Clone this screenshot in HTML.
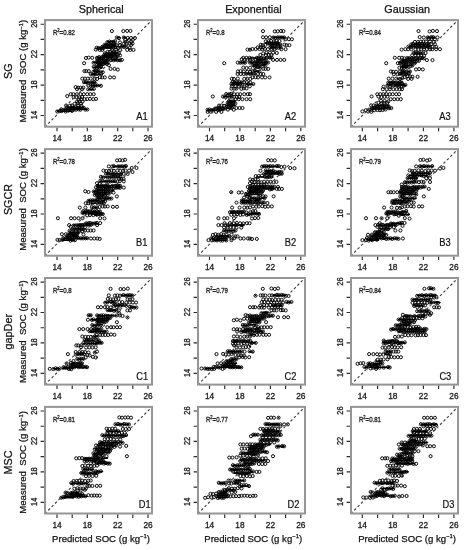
<!DOCTYPE html><html><head><meta charset="utf-8"><title>SOC prediction scatter plots</title><style>
html,body{margin:0;padding:0;background:#fff;}body{width:464px;height:550px;overflow:hidden;}
svg{display:block;} text{font-family:'Liberation Sans', Arial, Helvetica, sans-serif;}
.fr{fill:none;stroke:#959595;stroke-width:2;}
.tk{stroke:#2a2a2a;stroke-width:1.15;}
.dl{stroke:#3a3a3a;stroke-width:1.1;stroke-dasharray:2.6 2.25;stroke-dashoffset:0.37;}
.bl{fill:none;stroke:#000;stroke-width:1.6;stroke-linecap:round;}
.pt{fill:none;stroke:#000;stroke-width:0.95;}
.tl{font-size:8.3px;fill:#1a1a1a;stroke:#1a1a1a;stroke-width:0.3px;}
.ax{font-size:9.6px;fill:#111;stroke:#111;stroke-width:0.25px;}
.hd{font-size:10.8px;fill:#111;stroke:#111;stroke-width:0.25px;}
.r2{font-size:6.4px;fill:#222;stroke:#222;stroke-width:0.28px;}
.pl{font-size:9.6px;fill:#111;stroke:#111;stroke-width:0.2px;}
</style></head><body>
<svg width="464" height="550" viewBox="0 0 464 550">
<rect width="464" height="550" fill="#fff"/>
<text class="hd" x="101.2" y="13" text-anchor="middle">Spherical</text>
<text class="hd" x="253.4" y="13" text-anchor="middle">Exponential</text>
<text class="hd" x="407.1" y="13" text-anchor="middle">Gaussian</text>
<text class="hd" transform="translate(12.2,71.1) rotate(-90)" text-anchor="middle">SG</text>
<text class="ax" transform="translate(26.3,71.1) rotate(-90)" text-anchor="middle">Measured&#160;&#160;SOC (g kg<tspan dy="-3.2" font-size="5.9px">&#8722;1</tspan><tspan dy="3.2">)</tspan></text>
<path class="bl" d="M93.5 62.4H97.0M93.5 67.4H97.0M93.5 71.1H97.0M116.9 37.8H119.4M123.8 37.4H125.6M107.5 41.8H115.0M104.4 44.9H115.0M102.5 46.8H126.2M97.0 48.0H111.2M105.0 53.6H118.8M103.8 55.5H117.5M97.0 57.4H110.0M111.2 57.4H117.5M97.0 59.9H107.5M111.2 59.9H120.0M97.0 61.8H107.5M97.0 63.6H108.8M97.0 65.5H102.5M97.0 67.4H101.2M97.0 71.8H102.5M91.0 74.2H97.0M84.1 82.4H96.0M91.0 85.5H97.0M88.5 89.2H93.5M67.2 107.4H83.5M61.0 109.2H87.2M57.2 111.1H72.2M97.0 74.2H101.2M97.0 85.5H100.6"/>
<g class="pt"><circle cx="95.8" cy="49.6" r="1.55"/><circle cx="86.0" cy="58.0" r="1.55"/><circle cx="88.7" cy="57.6" r="1.55"/><circle cx="92.2" cy="57.8" r="1.55"/><circle cx="97.0" cy="57.8" r="1.55"/><circle cx="84.1" cy="63.2" r="1.55"/><circle cx="93.6" cy="62.7" r="1.55"/><circle cx="97.2" cy="62.3" r="1.55"/><circle cx="93.7" cy="66.9" r="1.55"/><circle cx="96.8" cy="67.8" r="1.55"/><circle cx="84.4" cy="71.1" r="1.55"/><circle cx="86.3" cy="71.1" r="1.55"/><circle cx="88.8" cy="71.1" r="1.55"/><circle cx="93.5" cy="71.6" r="1.55"/><circle cx="95.2" cy="70.8" r="1.55"/><circle cx="96.9" cy="70.7" r="1.55"/><circle cx="111.9" cy="31.1" r="1.55"/><circle cx="123.3" cy="31.1" r="1.55"/><circle cx="127.1" cy="30.9" r="1.55"/><circle cx="130.4" cy="30.9" r="1.55"/><circle cx="116.8" cy="37.5" r="1.55"/><circle cx="119.0" cy="38.1" r="1.55"/><circle cx="123.8" cy="37.5" r="1.55"/><circle cx="127.8" cy="38.0" r="1.55"/><circle cx="131.0" cy="38.0" r="1.55"/><circle cx="134.9" cy="38.0" r="1.55"/><circle cx="125.2" cy="39.9" r="1.55"/><circle cx="128.9" cy="39.9" r="1.55"/><circle cx="132.8" cy="39.9" r="1.55"/><circle cx="107.4" cy="42.1" r="1.55"/><circle cx="109.5" cy="41.6" r="1.55"/><circle cx="111.3" cy="42.1" r="1.55"/><circle cx="113.4" cy="41.8" r="1.55"/><circle cx="115.1" cy="41.3" r="1.55"/><circle cx="120.0" cy="42.4" r="1.55"/><circle cx="125.4" cy="42.0" r="1.55"/><circle cx="131.3" cy="41.9" r="1.55"/><circle cx="123.9" cy="43.6" r="1.55"/><circle cx="126.6" cy="43.6" r="1.55"/><circle cx="129.5" cy="43.6" r="1.55"/><circle cx="132.5" cy="43.6" r="1.55"/><circle cx="104.6" cy="44.9" r="1.55"/><circle cx="106.4" cy="44.9" r="1.55"/><circle cx="108.3" cy="44.4" r="1.55"/><circle cx="110.9" cy="45.4" r="1.55"/><circle cx="112.9" cy="44.8" r="1.55"/><circle cx="114.8" cy="44.9" r="1.55"/><circle cx="116.6" cy="45.1" r="1.55"/><circle cx="120.0" cy="45.2" r="1.55"/><circle cx="131.2" cy="44.9" r="1.55"/><circle cx="102.3" cy="46.8" r="1.55"/><circle cx="107.0" cy="47.1" r="1.55"/><circle cx="109.2" cy="47.0" r="1.55"/><circle cx="113.3" cy="46.7" r="1.55"/><circle cx="115.1" cy="47.1" r="1.55"/><circle cx="121.8" cy="46.6" r="1.55"/><circle cx="124.1" cy="46.9" r="1.55"/><circle cx="126.3" cy="46.7" r="1.55"/><circle cx="96.7" cy="47.7" r="1.55"/><circle cx="98.8" cy="48.1" r="1.55"/><circle cx="101.3" cy="48.3" r="1.55"/><circle cx="103.3" cy="48.3" r="1.55"/><circle cx="111.4" cy="47.7" r="1.55"/><circle cx="117.9" cy="48.0" r="1.55"/><circle cx="129.7" cy="48.0" r="1.55"/><circle cx="99.7" cy="49.9" r="1.55"/><circle cx="102.3" cy="49.9" r="1.55"/><circle cx="112.2" cy="50.2" r="1.55"/><circle cx="116.3" cy="49.6" r="1.55"/><circle cx="120.1" cy="50.1" r="1.55"/><circle cx="127.2" cy="49.9" r="1.55"/><circle cx="130.3" cy="49.9" r="1.55"/><circle cx="133.5" cy="49.9" r="1.55"/><circle cx="107.7" cy="51.8" r="1.55"/><circle cx="110.2" cy="51.8" r="1.55"/><circle cx="113.5" cy="51.8" r="1.55"/><circle cx="116.4" cy="51.8" r="1.55"/><circle cx="105.0" cy="53.3" r="1.55"/><circle cx="107.3" cy="53.9" r="1.55"/><circle cx="111.0" cy="53.5" r="1.55"/><circle cx="112.9" cy="53.4" r="1.55"/><circle cx="114.9" cy="53.2" r="1.55"/><circle cx="116.6" cy="54.1" r="1.55"/><circle cx="119.0" cy="53.4" r="1.55"/><circle cx="104.0" cy="55.3" r="1.55"/><circle cx="106.0" cy="55.7" r="1.55"/><circle cx="109.3" cy="55.9" r="1.55"/><circle cx="111.3" cy="55.8" r="1.55"/><circle cx="113.9" cy="55.6" r="1.55"/><circle cx="117.8" cy="55.7" r="1.55"/><circle cx="120.0" cy="55.5" r="1.55"/><circle cx="99.1" cy="57.1" r="1.55"/><circle cx="101.5" cy="57.3" r="1.55"/><circle cx="103.3" cy="57.0" r="1.55"/><circle cx="107.8" cy="57.2" r="1.55"/><circle cx="110.3" cy="57.8" r="1.55"/><circle cx="113.2" cy="57.9" r="1.55"/><circle cx="115.6" cy="57.2" r="1.55"/><circle cx="97.2" cy="60.3" r="1.55"/><circle cx="99.0" cy="60.3" r="1.55"/><circle cx="101.3" cy="59.9" r="1.55"/><circle cx="103.6" cy="59.6" r="1.55"/><circle cx="105.6" cy="59.5" r="1.55"/><circle cx="107.3" cy="60.3" r="1.55"/><circle cx="111.0" cy="60.1" r="1.55"/><circle cx="113.5" cy="60.2" r="1.55"/><circle cx="115.5" cy="59.7" r="1.55"/><circle cx="117.7" cy="60.2" r="1.55"/><circle cx="120.1" cy="60.3" r="1.55"/><circle cx="121.9" cy="59.9" r="1.55"/><circle cx="103.6" cy="62.0" r="1.55"/><circle cx="105.6" cy="61.6" r="1.55"/><circle cx="107.6" cy="62.0" r="1.55"/><circle cx="98.8" cy="63.2" r="1.55"/><circle cx="100.8" cy="64.0" r="1.55"/><circle cx="102.9" cy="64.1" r="1.55"/><circle cx="104.8" cy="63.4" r="1.55"/><circle cx="107.0" cy="64.0" r="1.55"/><circle cx="96.7" cy="65.1" r="1.55"/><circle cx="99.1" cy="65.0" r="1.55"/><circle cx="108.9" cy="65.2" r="1.55"/><circle cx="99.5" cy="67.8" r="1.55"/><circle cx="101.1" cy="67.1" r="1.55"/><circle cx="110.6" cy="68.9" r="1.55"/><circle cx="114.5" cy="68.9" r="1.55"/><circle cx="117.8" cy="69.6" r="1.55"/><circle cx="98.8" cy="71.6" r="1.55"/><circle cx="102.8" cy="72.2" r="1.55"/><circle cx="90.7" cy="74.0" r="1.55"/><circle cx="93.1" cy="74.7" r="1.55"/><circle cx="95.0" cy="74.4" r="1.55"/><circle cx="97.1" cy="74.0" r="1.55"/><circle cx="82.3" cy="78.6" r="1.55"/><circle cx="85.0" cy="78.6" r="1.55"/><circle cx="87.9" cy="78.6" r="1.55"/><circle cx="90.7" cy="78.6" r="1.55"/><circle cx="94.6" cy="78.7" r="1.55"/><circle cx="97.1" cy="79.0" r="1.55"/><circle cx="84.0" cy="82.2" r="1.55"/><circle cx="86.0" cy="82.2" r="1.55"/><circle cx="88.3" cy="82.8" r="1.55"/><circle cx="92.1" cy="82.5" r="1.55"/><circle cx="94.1" cy="82.1" r="1.55"/><circle cx="88.5" cy="85.5" r="1.55"/><circle cx="90.7" cy="85.6" r="1.55"/><circle cx="92.7" cy="85.1" r="1.55"/><circle cx="95.1" cy="85.3" r="1.55"/><circle cx="97.2" cy="85.5" r="1.55"/><circle cx="75.6" cy="87.1" r="1.55"/><circle cx="78.1" cy="87.6" r="1.55"/><circle cx="80.5" cy="87.7" r="1.55"/><circle cx="83.3" cy="87.6" r="1.55"/><circle cx="77.0" cy="89.2" r="1.55"/><circle cx="82.1" cy="89.2" r="1.55"/><circle cx="88.2" cy="89.3" r="1.55"/><circle cx="91.3" cy="89.0" r="1.55"/><circle cx="93.8" cy="88.9" r="1.55"/><circle cx="70.7" cy="94.2" r="1.55"/><circle cx="73.4" cy="94.2" r="1.55"/><circle cx="76.9" cy="94.2" r="1.55"/><circle cx="80.6" cy="94.2" r="1.55"/><circle cx="83.8" cy="94.2" r="1.55"/><circle cx="87.2" cy="94.2" r="1.55"/><circle cx="90.4" cy="94.2" r="1.55"/><circle cx="93.7" cy="94.2" r="1.55"/><circle cx="67.2" cy="96.1" r="1.55"/><circle cx="73.6" cy="97.1" r="1.55"/><circle cx="76.4" cy="97.1" r="1.55"/><circle cx="79.5" cy="97.5" r="1.55"/><circle cx="82.1" cy="97.0" r="1.55"/><circle cx="78.8" cy="99.5" r="1.55"/><circle cx="81.5" cy="99.3" r="1.55"/><circle cx="84.6" cy="99.2" r="1.55"/><circle cx="87.2" cy="99.1" r="1.55"/><circle cx="90.0" cy="98.9" r="1.55"/><circle cx="93.2" cy="99.2" r="1.55"/><circle cx="96.0" cy="98.9" r="1.55"/><circle cx="77.1" cy="101.5" r="1.55"/><circle cx="79.5" cy="101.6" r="1.55"/><circle cx="82.5" cy="101.7" r="1.55"/><circle cx="74.7" cy="103.7" r="1.55"/><circle cx="77.7" cy="103.2" r="1.55"/><circle cx="81.0" cy="103.6" r="1.55"/><circle cx="66.1" cy="105.5" r="1.55"/><circle cx="69.9" cy="105.7" r="1.55"/><circle cx="72.1" cy="105.5" r="1.55"/><circle cx="78.0" cy="105.5" r="1.55"/><circle cx="81.3" cy="105.8" r="1.55"/><circle cx="67.1" cy="107.5" r="1.55"/><circle cx="71.3" cy="107.8" r="1.55"/><circle cx="73.1" cy="107.6" r="1.55"/><circle cx="75.6" cy="107.2" r="1.55"/><circle cx="77.5" cy="107.7" r="1.55"/><circle cx="79.3" cy="107.6" r="1.55"/><circle cx="83.7" cy="107.8" r="1.55"/><circle cx="61.3" cy="109.3" r="1.55"/><circle cx="65.2" cy="109.3" r="1.55"/><circle cx="69.9" cy="109.5" r="1.55"/><circle cx="73.9" cy="109.5" r="1.55"/><circle cx="76.0" cy="109.7" r="1.55"/><circle cx="78.7" cy="109.4" r="1.55"/><circle cx="80.5" cy="109.7" r="1.55"/><circle cx="85.3" cy="109.6" r="1.55"/><circle cx="87.4" cy="109.5" r="1.55"/><circle cx="57.2" cy="111.5" r="1.55"/><circle cx="59.7" cy="111.0" r="1.55"/><circle cx="61.7" cy="111.1" r="1.55"/><circle cx="65.6" cy="111.5" r="1.55"/><circle cx="68.3" cy="110.7" r="1.55"/><circle cx="72.0" cy="110.9" r="1.55"/><circle cx="101.2" cy="73.8" r="1.55"/><circle cx="99.9" cy="77.1" r="1.55"/><circle cx="102.2" cy="77.4" r="1.55"/><circle cx="104.8" cy="77.4" r="1.55"/><circle cx="110.1" cy="77.4" r="1.55"/><circle cx="114.0" cy="77.4" r="1.55"/><circle cx="100.9" cy="85.8" r="1.55"/></g>
<line class="dl" x1="45.0" y1="126.8" x2="152.0" y2="20.1"/>
<rect class="fr" x="45.0" y="20.1" width="107.0" height="106.6"/>
<path class="tk" d="M57.0 127.8V131.2M44.0 115.5H40.6M72.2 127.8V131.2M44.0 100.3H40.6M87.3 127.8V131.2M44.0 85.1H40.6M102.5 127.8V131.2M44.0 69.9H40.6M117.7 127.8V131.2M44.0 54.6H40.6M132.8 127.8V131.2M44.0 39.4H40.6M148.0 127.8V131.2M44.0 24.2H40.6"/>
<text class="tl" x="57.0" y="141.1" text-anchor="middle">14</text>
<text class="tl" transform="translate(37.0,115.0) rotate(-90) scale(0.9,1)" text-anchor="middle">14</text>
<text class="tl" x="87.3" y="141.1" text-anchor="middle">18</text>
<text class="tl" transform="translate(37.0,84.6) rotate(-90) scale(0.9,1)" text-anchor="middle">18</text>
<text class="tl" x="117.7" y="141.1" text-anchor="middle">22</text>
<text class="tl" transform="translate(37.0,54.1) rotate(-90) scale(0.9,1)" text-anchor="middle">22</text>
<text class="tl" x="148.0" y="141.1" text-anchor="middle">26</text>
<text class="tl" transform="translate(37.0,23.7) rotate(-90) scale(0.9,1)" text-anchor="middle">26</text>
<text class="r2" transform="translate(52.90,34.85) scale(0.95,1.12)">R<tspan dy="-2.8" font-size="4.4px">2</tspan><tspan dy="2.8">=0.82</tspan></text>
<text class="pl" text-anchor="end" transform="translate(147.60,120.00) scale(0.97,1.08)">A1</text>
<path class="bl" d="M250.0 49.6H250.0M240.2 62.6H245.2M273.0 37.4H284.2M265.5 43.0H279.2M270.5 44.9H280.5M270.5 47.4H280.5M250.0 58.0H271.8M256.8 59.9H265.5M250.0 62.4H268.0M253.0 64.9H265.5M255.5 67.4H260.5M253.0 71.1H259.2M246.5 74.0H250.0M232.8 82.4H241.5M231.5 84.2H241.5M246.5 84.2H250.0M226.5 94.2H231.5M223.4 96.8H231.5M229.0 101.1H235.2M227.8 103.0H235.2M226.5 105.5H235.2M215.2 108.0H231.5M207.8 109.9H224.0M250.0 74.0H255.5M250.0 84.2H253.0"/>
<g class="pt"><circle cx="247.5" cy="49.6" r="1.55"/><circle cx="250.0" cy="49.7" r="1.55"/><circle cx="243.3" cy="57.8" r="1.55"/><circle cx="246.5" cy="57.8" r="1.55"/><circle cx="249.7" cy="57.8" r="1.55"/><circle cx="241.7" cy="59.2" r="1.55"/><circle cx="244.5" cy="59.5" r="1.55"/><circle cx="247.5" cy="59.7" r="1.55"/><circle cx="224.2" cy="63.2" r="1.55"/><circle cx="237.8" cy="62.6" r="1.55"/><circle cx="240.3" cy="62.7" r="1.55"/><circle cx="242.6" cy="62.6" r="1.55"/><circle cx="245.1" cy="62.7" r="1.55"/><circle cx="250.0" cy="62.6" r="1.55"/><circle cx="243.3" cy="67.6" r="1.55"/><circle cx="246.6" cy="68.0" r="1.55"/><circle cx="250.1" cy="67.7" r="1.55"/><circle cx="237.9" cy="71.4" r="1.55"/><circle cx="240.6" cy="71.1" r="1.55"/><circle cx="243.7" cy="71.6" r="1.55"/><circle cx="247.2" cy="71.8" r="1.55"/><circle cx="250.0" cy="71.9" r="1.55"/><circle cx="263.0" cy="31.1" r="1.55"/><circle cx="274.8" cy="31.4" r="1.55"/><circle cx="277.7" cy="31.3" r="1.55"/><circle cx="281.0" cy="31.0" r="1.55"/><circle cx="283.4" cy="31.2" r="1.55"/><circle cx="263.0" cy="37.3" r="1.55"/><circle cx="266.1" cy="37.3" r="1.55"/><circle cx="269.8" cy="37.3" r="1.55"/><circle cx="273.3" cy="37.5" r="1.55"/><circle cx="275.4" cy="37.8" r="1.55"/><circle cx="277.7" cy="37.4" r="1.55"/><circle cx="279.9" cy="37.5" r="1.55"/><circle cx="282.1" cy="37.5" r="1.55"/><circle cx="284.2" cy="37.5" r="1.55"/><circle cx="285.6" cy="39.2" r="1.55"/><circle cx="288.9" cy="39.2" r="1.55"/><circle cx="291.9" cy="39.2" r="1.55"/><circle cx="265.7" cy="41.3" r="1.55"/><circle cx="268.5" cy="41.2" r="1.55"/><circle cx="270.9" cy="40.9" r="1.55"/><circle cx="273.9" cy="41.4" r="1.55"/><circle cx="276.5" cy="40.8" r="1.55"/><circle cx="279.5" cy="41.1" r="1.55"/><circle cx="267.5" cy="43.2" r="1.55"/><circle cx="269.4" cy="42.9" r="1.55"/><circle cx="273.4" cy="43.4" r="1.55"/><circle cx="275.5" cy="42.9" r="1.55"/><circle cx="277.4" cy="43.1" r="1.55"/><circle cx="260.8" cy="44.7" r="1.55"/><circle cx="262.7" cy="45.1" r="1.55"/><circle cx="265.5" cy="44.8" r="1.55"/><circle cx="270.5" cy="45.1" r="1.55"/><circle cx="272.3" cy="45.0" r="1.55"/><circle cx="274.6" cy="45.2" r="1.55"/><circle cx="278.3" cy="44.9" r="1.55"/><circle cx="280.3" cy="45.2" r="1.55"/><circle cx="284.5" cy="44.7" r="1.55"/><circle cx="286.6" cy="45.2" r="1.55"/><circle cx="289.4" cy="45.2" r="1.55"/><circle cx="257.7" cy="47.4" r="1.55"/><circle cx="260.8" cy="47.4" r="1.55"/><circle cx="263.1" cy="47.4" r="1.55"/><circle cx="270.4" cy="47.3" r="1.55"/><circle cx="272.7" cy="47.7" r="1.55"/><circle cx="276.3" cy="47.8" r="1.55"/><circle cx="278.5" cy="47.8" r="1.55"/><circle cx="280.7" cy="47.5" r="1.55"/><circle cx="252.5" cy="49.0" r="1.55"/><circle cx="255.7" cy="49.1" r="1.55"/><circle cx="259.4" cy="49.0" r="1.55"/><circle cx="262.3" cy="49.4" r="1.55"/><circle cx="264.9" cy="48.9" r="1.55"/><circle cx="267.9" cy="49.2" r="1.55"/><circle cx="271.5" cy="49.0" r="1.55"/><circle cx="274.6" cy="49.3" r="1.55"/><circle cx="281.4" cy="49.2" r="1.55"/><circle cx="285.6" cy="49.2" r="1.55"/><circle cx="263.2" cy="53.4" r="1.55"/><circle cx="266.4" cy="52.9" r="1.55"/><circle cx="269.9" cy="52.7" r="1.55"/><circle cx="273.1" cy="52.7" r="1.55"/><circle cx="276.8" cy="53.0" r="1.55"/><circle cx="260.4" cy="54.9" r="1.55"/><circle cx="265.9" cy="55.1" r="1.55"/><circle cx="268.9" cy="54.9" r="1.55"/><circle cx="271.5" cy="55.0" r="1.55"/><circle cx="252.5" cy="58.5" r="1.55"/><circle cx="256.8" cy="57.8" r="1.55"/><circle cx="258.6" cy="58.1" r="1.55"/><circle cx="261.2" cy="57.9" r="1.55"/><circle cx="263.3" cy="58.3" r="1.55"/><circle cx="267.1" cy="57.6" r="1.55"/><circle cx="269.7" cy="57.6" r="1.55"/><circle cx="271.7" cy="57.6" r="1.55"/><circle cx="250.0" cy="59.9" r="1.55"/><circle cx="255.8" cy="59.9" r="1.55"/><circle cx="265.6" cy="60.1" r="1.55"/><circle cx="273.1" cy="59.9" r="1.55"/><circle cx="277.0" cy="59.9" r="1.55"/><circle cx="280.6" cy="59.9" r="1.55"/><circle cx="284.2" cy="59.9" r="1.55"/><circle cx="252.1" cy="62.1" r="1.55"/><circle cx="256.1" cy="62.2" r="1.55"/><circle cx="258.1" cy="62.4" r="1.55"/><circle cx="260.0" cy="61.9" r="1.55"/><circle cx="261.9" cy="62.3" r="1.55"/><circle cx="263.8" cy="62.8" r="1.55"/><circle cx="265.9" cy="62.5" r="1.55"/><circle cx="268.1" cy="62.6" r="1.55"/><circle cx="253.2" cy="65.1" r="1.55"/><circle cx="254.9" cy="65.4" r="1.55"/><circle cx="256.9" cy="65.3" r="1.55"/><circle cx="259.5" cy="65.2" r="1.55"/><circle cx="263.6" cy="64.8" r="1.55"/><circle cx="265.4" cy="65.4" r="1.55"/><circle cx="255.2" cy="67.4" r="1.55"/><circle cx="258.0" cy="67.0" r="1.55"/><circle cx="260.4" cy="67.6" r="1.55"/><circle cx="263.3" cy="68.9" r="1.55"/><circle cx="265.5" cy="68.9" r="1.55"/><circle cx="268.2" cy="68.9" r="1.55"/><circle cx="252.7" cy="71.0" r="1.55"/><circle cx="255.2" cy="70.9" r="1.55"/><circle cx="259.5" cy="71.5" r="1.55"/><circle cx="237.6" cy="74.0" r="1.55"/><circle cx="240.8" cy="74.0" r="1.55"/><circle cx="243.8" cy="74.0" r="1.55"/><circle cx="246.5" cy="73.8" r="1.55"/><circle cx="250.3" cy="74.1" r="1.55"/><circle cx="231.8" cy="78.7" r="1.55"/><circle cx="234.0" cy="79.0" r="1.55"/><circle cx="237.8" cy="78.6" r="1.55"/><circle cx="244.2" cy="78.9" r="1.55"/><circle cx="247.1" cy="78.7" r="1.55"/><circle cx="250.3" cy="78.9" r="1.55"/><circle cx="232.6" cy="82.0" r="1.55"/><circle cx="234.8" cy="82.4" r="1.55"/><circle cx="236.8" cy="82.2" r="1.55"/><circle cx="239.4" cy="81.9" r="1.55"/><circle cx="241.7" cy="82.5" r="1.55"/><circle cx="243.9" cy="82.2" r="1.55"/><circle cx="246.9" cy="82.2" r="1.55"/><circle cx="250.2" cy="82.4" r="1.55"/><circle cx="231.5" cy="83.9" r="1.55"/><circle cx="233.8" cy="84.1" r="1.55"/><circle cx="237.8" cy="84.2" r="1.55"/><circle cx="239.8" cy="84.7" r="1.55"/><circle cx="241.8" cy="84.6" r="1.55"/><circle cx="246.8" cy="84.7" r="1.55"/><circle cx="248.5" cy="83.9" r="1.55"/><circle cx="231.8" cy="86.4" r="1.55"/><circle cx="235.4" cy="86.3" r="1.55"/><circle cx="238.9" cy="86.5" r="1.55"/><circle cx="244.3" cy="86.5" r="1.55"/><circle cx="249.8" cy="86.3" r="1.55"/><circle cx="231.5" cy="88.6" r="1.55"/><circle cx="234.3" cy="88.6" r="1.55"/><circle cx="236.3" cy="88.6" r="1.55"/><circle cx="241.4" cy="88.8" r="1.55"/><circle cx="243.7" cy="88.3" r="1.55"/><circle cx="246.5" cy="88.4" r="1.55"/><circle cx="212.8" cy="96.5" r="1.55"/><circle cx="226.2" cy="94.0" r="1.55"/><circle cx="229.1" cy="94.3" r="1.55"/><circle cx="231.2" cy="93.8" r="1.55"/><circle cx="234.2" cy="94.2" r="1.55"/><circle cx="237.4" cy="94.2" r="1.55"/><circle cx="240.4" cy="94.2" r="1.55"/><circle cx="244.3" cy="94.2" r="1.55"/><circle cx="247.8" cy="94.2" r="1.55"/><circle cx="223.0" cy="96.6" r="1.55"/><circle cx="225.6" cy="97.0" r="1.55"/><circle cx="229.5" cy="97.1" r="1.55"/><circle cx="231.8" cy="96.7" r="1.55"/><circle cx="234.1" cy="96.8" r="1.55"/><circle cx="236.8" cy="97.0" r="1.55"/><circle cx="239.2" cy="97.0" r="1.55"/><circle cx="235.6" cy="99.2" r="1.55"/><circle cx="238.8" cy="99.2" r="1.55"/><circle cx="242.4" cy="99.2" r="1.55"/><circle cx="246.5" cy="99.2" r="1.55"/><circle cx="250.2" cy="99.2" r="1.55"/><circle cx="229.0" cy="101.1" r="1.55"/><circle cx="231.0" cy="101.5" r="1.55"/><circle cx="233.4" cy="101.2" r="1.55"/><circle cx="227.7" cy="102.7" r="1.55"/><circle cx="229.5" cy="103.2" r="1.55"/><circle cx="233.2" cy="103.4" r="1.55"/><circle cx="235.4" cy="103.5" r="1.55"/><circle cx="219.0" cy="105.6" r="1.55"/><circle cx="221.5" cy="105.5" r="1.55"/><circle cx="224.0" cy="105.8" r="1.55"/><circle cx="226.8" cy="105.4" r="1.55"/><circle cx="228.8" cy="105.3" r="1.55"/><circle cx="230.7" cy="105.5" r="1.55"/><circle cx="233.1" cy="105.5" r="1.55"/><circle cx="215.3" cy="108.5" r="1.55"/><circle cx="217.4" cy="108.1" r="1.55"/><circle cx="219.2" cy="107.9" r="1.55"/><circle cx="221.6" cy="108.4" r="1.55"/><circle cx="223.5" cy="108.4" r="1.55"/><circle cx="225.7" cy="108.3" r="1.55"/><circle cx="229.7" cy="107.9" r="1.55"/><circle cx="231.7" cy="108.0" r="1.55"/><circle cx="236.4" cy="108.0" r="1.55"/><circle cx="239.6" cy="108.0" r="1.55"/><circle cx="242.5" cy="108.0" r="1.55"/><circle cx="207.6" cy="109.8" r="1.55"/><circle cx="209.4" cy="109.5" r="1.55"/><circle cx="211.6" cy="110.2" r="1.55"/><circle cx="213.9" cy="109.7" r="1.55"/><circle cx="217.9" cy="110.1" r="1.55"/><circle cx="220.1" cy="109.8" r="1.55"/><circle cx="227.9" cy="109.6" r="1.55"/><circle cx="233.7" cy="109.7" r="1.55"/><circle cx="207.7" cy="111.9" r="1.55"/><circle cx="210.4" cy="111.7" r="1.55"/><circle cx="216.1" cy="111.9" r="1.55"/><circle cx="221.4" cy="111.9" r="1.55"/><circle cx="253.8" cy="73.6" r="1.55"/><circle cx="258.0" cy="74.0" r="1.55"/><circle cx="260.7" cy="74.0" r="1.55"/><circle cx="263.3" cy="74.0" r="1.55"/><circle cx="252.5" cy="77.3" r="1.55"/><circle cx="255.6" cy="77.2" r="1.55"/><circle cx="258.0" cy="77.4" r="1.55"/><circle cx="262.0" cy="77.4" r="1.55"/><circle cx="265.2" cy="77.4" r="1.55"/><circle cx="269.5" cy="77.4" r="1.55"/><circle cx="253.3" cy="84.0" r="1.55"/><circle cx="250.0" cy="94.2" r="1.55"/></g>
<line class="dl" x1="198.0" y1="126.8" x2="305.0" y2="20.1"/>
<rect class="fr" x="198.0" y="20.1" width="107.0" height="106.6"/>
<path class="tk" d="M209.5 127.8V131.2M197.0 115.5H193.6M224.7 127.8V131.2M197.0 100.3H193.6M239.9 127.8V131.2M197.0 85.1H193.6M255.2 127.8V131.2M197.0 69.9H193.6M270.4 127.8V131.2M197.0 54.6H193.6M285.6 127.8V131.2M197.0 39.4H193.6M300.8 127.8V131.2M197.0 24.2H193.6"/>
<text class="tl" x="209.5" y="141.1" text-anchor="middle">14</text>
<text class="tl" transform="translate(190.0,115.0) rotate(-90) scale(0.9,1)" text-anchor="middle">14</text>
<text class="tl" x="239.9" y="141.1" text-anchor="middle">18</text>
<text class="tl" transform="translate(190.0,84.6) rotate(-90) scale(0.9,1)" text-anchor="middle">18</text>
<text class="tl" x="270.4" y="141.1" text-anchor="middle">22</text>
<text class="tl" transform="translate(190.0,54.1) rotate(-90) scale(0.9,1)" text-anchor="middle">22</text>
<text class="tl" x="300.8" y="141.1" text-anchor="middle">26</text>
<text class="tl" transform="translate(190.0,23.7) rotate(-90) scale(0.9,1)" text-anchor="middle">26</text>
<text class="r2" transform="translate(205.90,34.85) scale(0.95,1.12)">R<tspan dy="-2.8" font-size="4.4px">2</tspan><tspan dy="2.8">=0.8</tspan></text>
<text class="pl" text-anchor="end" transform="translate(296.20,120.00) scale(0.97,1.08)">A2</text>
<path class="bl" d="M399.8 62.4H402.0M427.5 37.4H435.0M411.2 44.2H428.8M408.8 46.8H430.0M413.8 53.0H422.5M407.5 58.0H423.8M402.0 60.5H418.8M402.0 63.0H416.2M402.0 65.5H412.5M402.0 67.4H407.5M402.0 71.5H410.0M398.5 74.2H402.0M397.2 78.6H402.0M388.5 82.4H402.0M387.2 84.9H402.0M376.0 105.8H388.5M372.2 108.0H391.0M402.0 74.0H408.8M402.0 85.2H405.6"/>
<g class="pt"><circle cx="401.6" cy="49.6" r="1.55"/><circle cx="394.8" cy="57.8" r="1.55"/><circle cx="399.1" cy="57.8" r="1.55"/><circle cx="401.9" cy="57.8" r="1.55"/><circle cx="386.2" cy="63.2" r="1.55"/><circle cx="397.9" cy="63.2" r="1.55"/><circle cx="400.0" cy="62.9" r="1.55"/><circle cx="401.9" cy="62.4" r="1.55"/><circle cx="399.4" cy="67.8" r="1.55"/><circle cx="401.8" cy="68.0" r="1.55"/><circle cx="390.9" cy="71.5" r="1.55"/><circle cx="393.2" cy="71.9" r="1.55"/><circle cx="396.1" cy="71.8" r="1.55"/><circle cx="400.1" cy="71.3" r="1.55"/><circle cx="402.0" cy="71.5" r="1.55"/><circle cx="418.5" cy="31.1" r="1.55"/><circle cx="429.6" cy="31.4" r="1.55"/><circle cx="432.9" cy="30.9" r="1.55"/><circle cx="437.0" cy="31.1" r="1.55"/><circle cx="419.7" cy="37.1" r="1.55"/><circle cx="423.8" cy="37.5" r="1.55"/><circle cx="427.8" cy="37.4" r="1.55"/><circle cx="431.2" cy="37.2" r="1.55"/><circle cx="433.3" cy="37.1" r="1.55"/><circle cx="437.5" cy="37.4" r="1.55"/><circle cx="428.7" cy="39.1" r="1.55"/><circle cx="431.7" cy="39.0" r="1.55"/><circle cx="434.8" cy="39.4" r="1.55"/><circle cx="414.9" cy="41.9" r="1.55"/><circle cx="417.9" cy="42.0" r="1.55"/><circle cx="420.9" cy="41.6" r="1.55"/><circle cx="423.4" cy="41.6" r="1.55"/><circle cx="426.0" cy="41.5" r="1.55"/><circle cx="429.8" cy="41.4" r="1.55"/><circle cx="433.8" cy="41.9" r="1.55"/><circle cx="411.3" cy="44.4" r="1.55"/><circle cx="413.2" cy="43.9" r="1.55"/><circle cx="415.7" cy="44.6" r="1.55"/><circle cx="417.8" cy="43.8" r="1.55"/><circle cx="419.7" cy="44.1" r="1.55"/><circle cx="422.3" cy="43.8" r="1.55"/><circle cx="424.2" cy="44.4" r="1.55"/><circle cx="426.9" cy="44.1" r="1.55"/><circle cx="428.8" cy="44.3" r="1.55"/><circle cx="430.9" cy="44.2" r="1.55"/><circle cx="434.9" cy="44.2" r="1.55"/><circle cx="408.5" cy="46.5" r="1.55"/><circle cx="411.1" cy="46.9" r="1.55"/><circle cx="415.3" cy="46.4" r="1.55"/><circle cx="417.1" cy="46.5" r="1.55"/><circle cx="419.1" cy="46.3" r="1.55"/><circle cx="421.2" cy="46.6" r="1.55"/><circle cx="423.9" cy="46.9" r="1.55"/><circle cx="427.7" cy="46.8" r="1.55"/><circle cx="429.9" cy="47.2" r="1.55"/><circle cx="432.4" cy="47.0" r="1.55"/><circle cx="436.3" cy="47.0" r="1.55"/><circle cx="405.3" cy="49.2" r="1.55"/><circle cx="408.1" cy="49.2" r="1.55"/><circle cx="411.4" cy="49.2" r="1.55"/><circle cx="415.5" cy="49.3" r="1.55"/><circle cx="418.3" cy="49.6" r="1.55"/><circle cx="421.3" cy="49.3" r="1.55"/><circle cx="423.9" cy="49.3" r="1.55"/><circle cx="426.9" cy="49.0" r="1.55"/><circle cx="430.0" cy="49.3" r="1.55"/><circle cx="432.3" cy="49.2" r="1.55"/><circle cx="436.1" cy="49.2" r="1.55"/><circle cx="440.0" cy="49.2" r="1.55"/><circle cx="413.7" cy="52.9" r="1.55"/><circle cx="415.7" cy="52.9" r="1.55"/><circle cx="418.2" cy="53.0" r="1.55"/><circle cx="420.3" cy="53.3" r="1.55"/><circle cx="422.7" cy="53.2" r="1.55"/><circle cx="425.6" cy="53.0" r="1.55"/><circle cx="412.2" cy="55.3" r="1.55"/><circle cx="415.4" cy="55.2" r="1.55"/><circle cx="418.4" cy="55.2" r="1.55"/><circle cx="421.2" cy="55.3" r="1.55"/><circle cx="424.0" cy="55.8" r="1.55"/><circle cx="404.5" cy="58.3" r="1.55"/><circle cx="407.4" cy="58.0" r="1.55"/><circle cx="409.4" cy="58.2" r="1.55"/><circle cx="411.8" cy="58.1" r="1.55"/><circle cx="415.9" cy="58.1" r="1.55"/><circle cx="420.0" cy="58.0" r="1.55"/><circle cx="421.9" cy="58.1" r="1.55"/><circle cx="423.7" cy="58.4" r="1.55"/><circle cx="426.9" cy="60.1" r="1.55"/><circle cx="432.5" cy="60.1" r="1.55"/><circle cx="401.9" cy="60.6" r="1.55"/><circle cx="403.8" cy="60.5" r="1.55"/><circle cx="405.9" cy="60.7" r="1.55"/><circle cx="407.9" cy="60.0" r="1.55"/><circle cx="410.1" cy="60.1" r="1.55"/><circle cx="412.5" cy="60.4" r="1.55"/><circle cx="414.4" cy="61.0" r="1.55"/><circle cx="416.9" cy="60.7" r="1.55"/><circle cx="419.0" cy="60.8" r="1.55"/><circle cx="403.9" cy="63.1" r="1.55"/><circle cx="406.0" cy="62.7" r="1.55"/><circle cx="408.3" cy="63.4" r="1.55"/><circle cx="412.1" cy="63.2" r="1.55"/><circle cx="414.6" cy="63.3" r="1.55"/><circle cx="401.9" cy="65.3" r="1.55"/><circle cx="404.3" cy="65.4" r="1.55"/><circle cx="406.3" cy="65.6" r="1.55"/><circle cx="410.5" cy="65.9" r="1.55"/><circle cx="412.3" cy="65.6" r="1.55"/><circle cx="404.0" cy="67.9" r="1.55"/><circle cx="407.4" cy="67.7" r="1.55"/><circle cx="416.0" cy="69.4" r="1.55"/><circle cx="419.1" cy="69.1" r="1.55"/><circle cx="422.8" cy="69.4" r="1.55"/><circle cx="404.0" cy="71.5" r="1.55"/><circle cx="406.2" cy="71.7" r="1.55"/><circle cx="410.0" cy="71.6" r="1.55"/><circle cx="393.8" cy="74.2" r="1.55"/><circle cx="397.5" cy="74.2" r="1.55"/><circle cx="400.0" cy="73.8" r="1.55"/><circle cx="388.7" cy="78.6" r="1.55"/><circle cx="392.4" cy="78.6" r="1.55"/><circle cx="396.2" cy="78.6" r="1.55"/><circle cx="400.0" cy="79.0" r="1.55"/><circle cx="402.3" cy="78.1" r="1.55"/><circle cx="388.4" cy="82.5" r="1.55"/><circle cx="390.9" cy="82.8" r="1.55"/><circle cx="393.0" cy="82.3" r="1.55"/><circle cx="394.9" cy="82.7" r="1.55"/><circle cx="397.8" cy="82.8" r="1.55"/><circle cx="399.9" cy="82.2" r="1.55"/><circle cx="401.8" cy="82.7" r="1.55"/><circle cx="387.6" cy="85.3" r="1.55"/><circle cx="391.5" cy="84.8" r="1.55"/><circle cx="393.8" cy="85.3" r="1.55"/><circle cx="395.8" cy="85.1" r="1.55"/><circle cx="397.9" cy="85.0" r="1.55"/><circle cx="399.9" cy="84.6" r="1.55"/><circle cx="402.2" cy="84.5" r="1.55"/><circle cx="383.6" cy="86.7" r="1.55"/><circle cx="390.2" cy="87.1" r="1.55"/><circle cx="398.8" cy="86.6" r="1.55"/><circle cx="401.8" cy="86.7" r="1.55"/><circle cx="382.9" cy="89.2" r="1.55"/><circle cx="386.7" cy="89.2" r="1.55"/><circle cx="389.9" cy="89.2" r="1.55"/><circle cx="393.4" cy="89.2" r="1.55"/><circle cx="396.6" cy="89.2" r="1.55"/><circle cx="399.7" cy="89.2" r="1.55"/><circle cx="377.3" cy="94.2" r="1.55"/><circle cx="380.3" cy="94.2" r="1.55"/><circle cx="383.3" cy="94.2" r="1.55"/><circle cx="386.6" cy="94.2" r="1.55"/><circle cx="389.7" cy="94.2" r="1.55"/><circle cx="392.7" cy="94.2" r="1.55"/><circle cx="396.2" cy="94.2" r="1.55"/><circle cx="399.1" cy="94.2" r="1.55"/><circle cx="371.6" cy="96.5" r="1.55"/><circle cx="378.4" cy="96.5" r="1.55"/><circle cx="381.5" cy="97.0" r="1.55"/><circle cx="384.5" cy="96.8" r="1.55"/><circle cx="387.4" cy="96.6" r="1.55"/><circle cx="390.7" cy="99.2" r="1.55"/><circle cx="394.2" cy="99.2" r="1.55"/><circle cx="397.6" cy="99.2" r="1.55"/><circle cx="400.8" cy="99.2" r="1.55"/><circle cx="381.0" cy="100.8" r="1.55"/><circle cx="384.5" cy="100.9" r="1.55"/><circle cx="388.3" cy="101.4" r="1.55"/><circle cx="378.5" cy="102.8" r="1.55"/><circle cx="381.4" cy="103.3" r="1.55"/><circle cx="384.4" cy="103.0" r="1.55"/><circle cx="387.2" cy="102.8" r="1.55"/><circle cx="371.1" cy="105.4" r="1.55"/><circle cx="373.7" cy="105.4" r="1.55"/><circle cx="376.2" cy="105.6" r="1.55"/><circle cx="378.2" cy="105.8" r="1.55"/><circle cx="382.0" cy="105.5" r="1.55"/><circle cx="384.3" cy="105.5" r="1.55"/><circle cx="386.5" cy="106.2" r="1.55"/><circle cx="388.4" cy="106.1" r="1.55"/><circle cx="372.1" cy="108.2" r="1.55"/><circle cx="374.2" cy="108.0" r="1.55"/><circle cx="376.1" cy="108.3" r="1.55"/><circle cx="378.3" cy="108.0" r="1.55"/><circle cx="380.4" cy="108.3" r="1.55"/><circle cx="382.7" cy="108.1" r="1.55"/><circle cx="384.9" cy="107.8" r="1.55"/><circle cx="388.8" cy="108.3" r="1.55"/><circle cx="391.3" cy="108.1" r="1.55"/><circle cx="365.7" cy="110.2" r="1.55"/><circle cx="368.9" cy="109.7" r="1.55"/><circle cx="371.4" cy="109.9" r="1.55"/><circle cx="374.2" cy="110.2" r="1.55"/><circle cx="377.4" cy="110.1" r="1.55"/><circle cx="380.0" cy="110.2" r="1.55"/><circle cx="382.6" cy="110.0" r="1.55"/><circle cx="385.5" cy="109.5" r="1.55"/><circle cx="362.4" cy="111.4" r="1.55"/><circle cx="368.1" cy="111.6" r="1.55"/><circle cx="371.4" cy="111.8" r="1.55"/><circle cx="401.9" cy="73.8" r="1.55"/><circle cx="404.0" cy="74.3" r="1.55"/><circle cx="406.2" cy="74.1" r="1.55"/><circle cx="408.7" cy="73.5" r="1.55"/><circle cx="404.7" cy="77.1" r="1.55"/><circle cx="407.5" cy="76.4" r="1.55"/><circle cx="410.0" cy="76.4" r="1.55"/><circle cx="412.4" cy="76.7" r="1.55"/><circle cx="417.6" cy="76.8" r="1.55"/><circle cx="408.1" cy="78.9" r="1.55"/><circle cx="411.6" cy="78.8" r="1.55"/><circle cx="403.8" cy="85.6" r="1.55"/><circle cx="405.4" cy="84.9" r="1.55"/><circle cx="402.0" cy="89.2" r="1.55"/></g>
<line class="dl" x1="351.0" y1="126.8" x2="458.0" y2="20.1"/>
<rect class="fr" x="351.0" y="20.1" width="107.0" height="106.6"/>
<path class="tk" d="M362.3 127.8V131.2M350.0 115.5H346.6M377.6 127.8V131.2M350.0 100.3H346.6M392.8 127.8V131.2M350.0 85.1H346.6M408.1 127.8V131.2M350.0 69.9H346.6M423.4 127.8V131.2M350.0 54.6H346.6M438.6 127.8V131.2M350.0 39.4H346.6M453.9 127.8V131.2M350.0 24.2H346.6"/>
<text class="tl" x="362.3" y="141.1" text-anchor="middle">14</text>
<text class="tl" transform="translate(343.0,115.0) rotate(-90) scale(0.9,1)" text-anchor="middle">14</text>
<text class="tl" x="392.8" y="141.1" text-anchor="middle">18</text>
<text class="tl" transform="translate(343.0,84.6) rotate(-90) scale(0.9,1)" text-anchor="middle">18</text>
<text class="tl" x="423.4" y="141.1" text-anchor="middle">22</text>
<text class="tl" transform="translate(343.0,54.1) rotate(-90) scale(0.9,1)" text-anchor="middle">22</text>
<text class="tl" x="453.9" y="141.1" text-anchor="middle">26</text>
<text class="tl" transform="translate(343.0,23.7) rotate(-90) scale(0.9,1)" text-anchor="middle">26</text>
<text class="r2" transform="translate(358.90,34.85) scale(0.95,1.12)">R<tspan dy="-2.8" font-size="4.4px">2</tspan><tspan dy="2.8">=0.84</tspan></text>
<text class="pl" text-anchor="end" transform="translate(450.60,120.00) scale(0.97,1.08)">A3</text>
<text class="hd" transform="translate(12.2,199.5) rotate(-90)" text-anchor="middle">SGCR</text>
<text class="ax" transform="translate(26.3,199.5) rotate(-90)" text-anchor="middle">Measured&#160;&#160;SOC (g kg<tspan dy="-3.2" font-size="5.9px">&#8722;1</tspan><tspan dy="3.2">)</tspan></text>
<path class="bl" d="M93.5 191.6H97.0M94.8 194.5H97.0M88.5 200.5H97.0M113.8 166.4H126.2M106.2 173.9H122.5M101.2 177.0H120.0M100.0 181.4H115.0M97.5 185.8H120.0M97.5 187.6H111.2M113.8 187.6H120.0M97.0 190.1H113.8M97.0 192.6H110.0M97.0 194.5H107.5M97.0 196.4H103.8M97.0 198.2H111.2M97.0 200.5H105.0M91.0 203.2H97.0M92.2 207.6H97.0M83.5 211.4H97.0M82.2 213.2H97.0M94.8 215.1H97.0M86.0 223.2H97.0M73.5 225.1H91.0M72.2 228.9H83.5M69.8 232.6H78.5M67.2 234.5H77.2M66.0 236.4H78.5M63.5 238.2H87.2M62.2 240.1H74.8M97.0 203.0H103.8M97.0 211.4H100.0M97.0 213.9H103.1"/>
<g class="pt"><circle cx="97.0" cy="183.2" r="1.55"/><circle cx="96.0" cy="187.3" r="1.55"/><circle cx="85.2" cy="191.3" r="1.55"/><circle cx="88.5" cy="192.0" r="1.55"/><circle cx="93.7" cy="191.5" r="1.55"/><circle cx="95.6" cy="191.9" r="1.55"/><circle cx="94.7" cy="194.9" r="1.55"/><circle cx="97.0" cy="194.9" r="1.55"/><circle cx="88.5" cy="200.9" r="1.55"/><circle cx="90.6" cy="200.4" r="1.55"/><circle cx="92.8" cy="200.3" r="1.55"/><circle cx="94.6" cy="200.6" r="1.55"/><circle cx="97.2" cy="200.3" r="1.55"/><circle cx="117.1" cy="160.4" r="1.55"/><circle cx="119.8" cy="160.1" r="1.55"/><circle cx="122.6" cy="160.4" r="1.55"/><circle cx="125.1" cy="159.8" r="1.55"/><circle cx="108.8" cy="166.4" r="1.55"/><circle cx="112.2" cy="166.4" r="1.55"/><circle cx="114.0" cy="166.2" r="1.55"/><circle cx="118.0" cy="166.5" r="1.55"/><circle cx="120.0" cy="166.5" r="1.55"/><circle cx="122.3" cy="166.3" r="1.55"/><circle cx="124.2" cy="166.7" r="1.55"/><circle cx="125.9" cy="166.0" r="1.55"/><circle cx="131.8" cy="168.0" r="1.55"/><circle cx="136.5" cy="168.0" r="1.55"/><circle cx="103.5" cy="170.6" r="1.55"/><circle cx="106.3" cy="171.0" r="1.55"/><circle cx="109.1" cy="171.0" r="1.55"/><circle cx="111.3" cy="170.4" r="1.55"/><circle cx="113.9" cy="170.9" r="1.55"/><circle cx="117.3" cy="170.6" r="1.55"/><circle cx="120.3" cy="170.8" r="1.55"/><circle cx="123.0" cy="170.8" r="1.55"/><circle cx="125.5" cy="170.5" r="1.55"/><circle cx="129.1" cy="170.6" r="1.55"/><circle cx="132.5" cy="172.0" r="1.55"/><circle cx="106.0" cy="173.7" r="1.55"/><circle cx="108.4" cy="173.6" r="1.55"/><circle cx="112.3" cy="174.1" r="1.55"/><circle cx="114.2" cy="174.2" r="1.55"/><circle cx="116.7" cy="174.2" r="1.55"/><circle cx="120.8" cy="174.2" r="1.55"/><circle cx="123.7" cy="173.9" r="1.55"/><circle cx="127.7" cy="173.9" r="1.55"/><circle cx="100.9" cy="176.8" r="1.55"/><circle cx="103.5" cy="177.4" r="1.55"/><circle cx="107.6" cy="177.4" r="1.55"/><circle cx="109.5" cy="177.5" r="1.55"/><circle cx="111.5" cy="176.6" r="1.55"/><circle cx="113.5" cy="177.1" r="1.55"/><circle cx="115.6" cy="176.8" r="1.55"/><circle cx="117.7" cy="176.6" r="1.55"/><circle cx="120.3" cy="176.8" r="1.55"/><circle cx="119.1" cy="178.9" r="1.55"/><circle cx="121.4" cy="178.9" r="1.55"/><circle cx="123.6" cy="178.9" r="1.55"/><circle cx="100.3" cy="180.9" r="1.55"/><circle cx="102.5" cy="180.9" r="1.55"/><circle cx="106.1" cy="181.6" r="1.55"/><circle cx="108.3" cy="181.7" r="1.55"/><circle cx="110.4" cy="181.4" r="1.55"/><circle cx="112.7" cy="181.2" r="1.55"/><circle cx="115.0" cy="181.2" r="1.55"/><circle cx="117.4" cy="181.5" r="1.55"/><circle cx="119.8" cy="181.1" r="1.55"/><circle cx="123.8" cy="181.4" r="1.55"/><circle cx="99.9" cy="183.9" r="1.55"/><circle cx="97.8" cy="185.7" r="1.55"/><circle cx="101.3" cy="185.4" r="1.55"/><circle cx="103.7" cy="185.9" r="1.55"/><circle cx="106.0" cy="185.7" r="1.55"/><circle cx="107.9" cy="185.6" r="1.55"/><circle cx="112.0" cy="186.1" r="1.55"/><circle cx="114.2" cy="186.1" r="1.55"/><circle cx="116.0" cy="185.8" r="1.55"/><circle cx="118.0" cy="185.7" r="1.55"/><circle cx="120.1" cy="185.8" r="1.55"/><circle cx="97.8" cy="187.6" r="1.55"/><circle cx="101.6" cy="187.6" r="1.55"/><circle cx="103.4" cy="187.9" r="1.55"/><circle cx="105.4" cy="187.4" r="1.55"/><circle cx="107.2" cy="187.7" r="1.55"/><circle cx="109.0" cy="187.6" r="1.55"/><circle cx="113.7" cy="187.8" r="1.55"/><circle cx="116.1" cy="187.8" r="1.55"/><circle cx="118.0" cy="187.5" r="1.55"/><circle cx="120.0" cy="187.8" r="1.55"/><circle cx="123.8" cy="187.6" r="1.55"/><circle cx="96.9" cy="190.4" r="1.55"/><circle cx="98.7" cy="190.4" r="1.55"/><circle cx="101.4" cy="189.9" r="1.55"/><circle cx="105.4" cy="190.4" r="1.55"/><circle cx="107.7" cy="189.8" r="1.55"/><circle cx="112.0" cy="190.3" r="1.55"/><circle cx="97.3" cy="192.7" r="1.55"/><circle cx="101.5" cy="192.3" r="1.55"/><circle cx="103.7" cy="192.6" r="1.55"/><circle cx="105.7" cy="192.5" r="1.55"/><circle cx="107.7" cy="192.5" r="1.55"/><circle cx="110.0" cy="192.6" r="1.55"/><circle cx="113.5" cy="192.6" r="1.55"/><circle cx="99.2" cy="194.6" r="1.55"/><circle cx="101.3" cy="194.2" r="1.55"/><circle cx="105.2" cy="195.0" r="1.55"/><circle cx="107.7" cy="194.9" r="1.55"/><circle cx="99.1" cy="196.4" r="1.55"/><circle cx="103.7" cy="196.4" r="1.55"/><circle cx="116.9" cy="196.4" r="1.55"/><circle cx="97.3" cy="198.3" r="1.55"/><circle cx="101.1" cy="198.0" r="1.55"/><circle cx="104.8" cy="198.1" r="1.55"/><circle cx="106.9" cy="198.2" r="1.55"/><circle cx="109.2" cy="198.6" r="1.55"/><circle cx="111.4" cy="198.5" r="1.55"/><circle cx="100.7" cy="200.5" r="1.55"/><circle cx="103.0" cy="200.1" r="1.55"/><circle cx="105.3" cy="201.0" r="1.55"/><circle cx="85.7" cy="203.2" r="1.55"/><circle cx="88.2" cy="203.2" r="1.55"/><circle cx="90.7" cy="203.5" r="1.55"/><circle cx="93.2" cy="202.8" r="1.55"/><circle cx="96.9" cy="202.8" r="1.55"/><circle cx="79.8" cy="207.6" r="1.55"/><circle cx="85.4" cy="207.6" r="1.55"/><circle cx="91.9" cy="207.3" r="1.55"/><circle cx="94.4" cy="207.4" r="1.55"/><circle cx="97.0" cy="207.4" r="1.55"/><circle cx="83.3" cy="211.1" r="1.55"/><circle cx="86.0" cy="211.1" r="1.55"/><circle cx="88.0" cy="211.3" r="1.55"/><circle cx="90.1" cy="211.3" r="1.55"/><circle cx="92.2" cy="211.1" r="1.55"/><circle cx="94.8" cy="211.6" r="1.55"/><circle cx="96.8" cy="211.1" r="1.55"/><circle cx="82.5" cy="212.8" r="1.55"/><circle cx="84.6" cy="213.6" r="1.55"/><circle cx="90.5" cy="213.1" r="1.55"/><circle cx="92.8" cy="213.2" r="1.55"/><circle cx="95.1" cy="213.4" r="1.55"/><circle cx="87.2" cy="215.4" r="1.55"/><circle cx="90.0" cy="215.0" r="1.55"/><circle cx="93.3" cy="215.1" r="1.55"/><circle cx="96.8" cy="214.8" r="1.55"/><circle cx="57.9" cy="218.2" r="1.55"/><circle cx="71.0" cy="218.2" r="1.55"/><circle cx="74.6" cy="218.2" r="1.55"/><circle cx="78.5" cy="218.2" r="1.55"/><circle cx="82.5" cy="218.2" r="1.55"/><circle cx="86.1" cy="223.4" r="1.55"/><circle cx="88.5" cy="223.1" r="1.55"/><circle cx="90.3" cy="223.0" r="1.55"/><circle cx="92.8" cy="223.6" r="1.55"/><circle cx="95.1" cy="223.4" r="1.55"/><circle cx="69.1" cy="225.1" r="1.55"/><circle cx="73.7" cy="225.5" r="1.55"/><circle cx="75.7" cy="225.5" r="1.55"/><circle cx="78.2" cy="225.4" r="1.55"/><circle cx="80.0" cy="225.1" r="1.55"/><circle cx="82.1" cy="225.0" r="1.55"/><circle cx="84.4" cy="224.6" r="1.55"/><circle cx="88.9" cy="225.5" r="1.55"/><circle cx="91.1" cy="224.8" r="1.55"/><circle cx="97.1" cy="225.1" r="1.55"/><circle cx="70.7" cy="226.7" r="1.55"/><circle cx="79.5" cy="226.8" r="1.55"/><circle cx="81.9" cy="227.0" r="1.55"/><circle cx="85.0" cy="227.3" r="1.55"/><circle cx="72.5" cy="229.1" r="1.55"/><circle cx="74.2" cy="228.6" r="1.55"/><circle cx="76.8" cy="229.4" r="1.55"/><circle cx="79.2" cy="228.6" r="1.55"/><circle cx="81.1" cy="229.3" r="1.55"/><circle cx="83.5" cy="229.2" r="1.55"/><circle cx="85.0" cy="230.5" r="1.55"/><circle cx="87.9" cy="230.5" r="1.55"/><circle cx="90.7" cy="230.5" r="1.55"/><circle cx="93.6" cy="230.5" r="1.55"/><circle cx="69.6" cy="230.7" r="1.55"/><circle cx="75.8" cy="231.1" r="1.55"/><circle cx="79.5" cy="230.8" r="1.55"/><circle cx="82.1" cy="231.3" r="1.55"/><circle cx="69.6" cy="232.5" r="1.55"/><circle cx="71.8" cy="232.2" r="1.55"/><circle cx="74.4" cy="232.8" r="1.55"/><circle cx="78.2" cy="232.5" r="1.55"/><circle cx="61.9" cy="234.2" r="1.55"/><circle cx="65.8" cy="234.3" r="1.55"/><circle cx="69.3" cy="234.9" r="1.55"/><circle cx="71.3" cy="234.4" r="1.55"/><circle cx="73.5" cy="234.6" r="1.55"/><circle cx="77.1" cy="234.4" r="1.55"/><circle cx="83.5" cy="234.5" r="1.55"/><circle cx="74.2" cy="236.5" r="1.55"/><circle cx="76.5" cy="236.7" r="1.55"/><circle cx="63.3" cy="238.1" r="1.55"/><circle cx="65.7" cy="238.6" r="1.55"/><circle cx="67.9" cy="238.7" r="1.55"/><circle cx="69.6" cy="238.1" r="1.55"/><circle cx="72.1" cy="237.8" r="1.55"/><circle cx="78.3" cy="238.1" r="1.55"/><circle cx="80.9" cy="238.3" r="1.55"/><circle cx="83.3" cy="238.4" r="1.55"/><circle cx="85.4" cy="238.3" r="1.55"/><circle cx="87.2" cy="238.2" r="1.55"/><circle cx="91.0" cy="238.5" r="1.55"/><circle cx="94.3" cy="238.5" r="1.55"/><circle cx="97.3" cy="238.5" r="1.55"/><circle cx="57.5" cy="239.9" r="1.55"/><circle cx="59.6" cy="240.0" r="1.55"/><circle cx="62.5" cy="239.9" r="1.55"/><circle cx="70.5" cy="240.6" r="1.55"/><circle cx="72.5" cy="240.0" r="1.55"/><circle cx="74.9" cy="240.2" r="1.55"/><circle cx="99.4" cy="202.8" r="1.55"/><circle cx="101.4" cy="202.9" r="1.55"/><circle cx="103.8" cy="203.1" r="1.55"/><circle cx="99.6" cy="207.0" r="1.55"/><circle cx="102.6" cy="206.5" r="1.55"/><circle cx="105.0" cy="206.5" r="1.55"/><circle cx="107.7" cy="206.4" r="1.55"/><circle cx="112.9" cy="206.8" r="1.55"/><circle cx="117.0" cy="206.8" r="1.55"/><circle cx="100.0" cy="211.4" r="1.55"/><circle cx="99.1" cy="214.1" r="1.55"/><circle cx="100.8" cy="214.0" r="1.55"/><circle cx="102.8" cy="214.1" r="1.55"/><circle cx="100.2" cy="218.2" r="1.55"/><circle cx="104.5" cy="218.4" r="1.55"/><circle cx="96.9" cy="222.9" r="1.55"/><circle cx="100.2" cy="223.1" r="1.55"/><circle cx="99.7" cy="238.9" r="1.55"/></g>
<line class="dl" x1="45.0" y1="255.7" x2="152.0" y2="149.1"/>
<rect class="fr" x="45.0" y="149.1" width="107.0" height="106.6"/>
<path class="tk" d="M57.0 256.7V260.1M44.0 244.4H40.6M72.2 256.7V260.1M44.0 229.2H40.6M87.3 256.7V260.1M44.0 214.0H40.6M102.5 256.7V260.1M44.0 198.8H40.6M117.7 256.7V260.1M44.0 183.6H40.6M132.8 256.7V260.1M44.0 168.4H40.6M148.0 256.7V260.1M44.0 153.1H40.6"/>
<text class="tl" x="57.0" y="270.0" text-anchor="middle">14</text>
<text class="tl" transform="translate(37.0,243.9) rotate(-90) scale(0.9,1)" text-anchor="middle">14</text>
<text class="tl" x="87.3" y="270.0" text-anchor="middle">18</text>
<text class="tl" transform="translate(37.0,213.5) rotate(-90) scale(0.9,1)" text-anchor="middle">18</text>
<text class="tl" x="117.7" y="270.0" text-anchor="middle">22</text>
<text class="tl" transform="translate(37.0,183.1) rotate(-90) scale(0.9,1)" text-anchor="middle">22</text>
<text class="tl" x="148.0" y="270.0" text-anchor="middle">26</text>
<text class="tl" transform="translate(37.0,152.6) rotate(-90) scale(0.9,1)" text-anchor="middle">26</text>
<text class="r2" transform="translate(52.90,163.78) scale(0.95,1.12)">R<tspan dy="-2.8" font-size="4.4px">2</tspan><tspan dy="2.8">=0.78</tspan></text>
<text class="pl" text-anchor="end" transform="translate(147.50,246.10) scale(0.97,1.08)">B1</text>
<path class="bl" d="M249.0 191.4H250.0M231.2 192.2H231.2M245.9 193.9H250.0M245.2 195.8H250.0M241.5 200.5H250.0M262.4 166.4H278.6M265.5 170.8H273.0M266.8 172.2H281.8M264.2 173.9H281.8M256.8 177.0H273.0M250.0 187.0H274.2M250.0 188.9H260.5M263.0 188.9H274.2M250.0 190.8H264.2M250.0 192.6H263.0M250.0 194.5H260.5M250.0 198.2H264.2M250.0 200.5H259.2M241.5 202.6H250.0M230.2 212.0H244.0M246.5 214.5H250.0M227.8 225.1H244.0M224.0 230.8H235.2M216.5 236.4H229.0M211.5 238.2H226.5M212.8 240.1H226.5M250.0 203.0H264.2M250.0 213.9H259.2"/>
<g class="pt"><circle cx="250.0" cy="183.2" r="1.55"/><circle cx="247.8" cy="187.0" r="1.55"/><circle cx="250.3" cy="187.0" r="1.55"/><circle cx="249.0" cy="191.0" r="1.55"/><circle cx="231.2" cy="192.2" r="1.55"/><circle cx="238.7" cy="192.5" r="1.55"/><circle cx="241.8" cy="192.4" r="1.55"/><circle cx="246.0" cy="193.9" r="1.55"/><circle cx="248.3" cy="194.4" r="1.55"/><circle cx="247.4" cy="196.2" r="1.55"/><circle cx="250.1" cy="195.6" r="1.55"/><circle cx="244.0" cy="197.6" r="1.55"/><circle cx="249.8" cy="197.7" r="1.55"/><circle cx="241.8" cy="200.6" r="1.55"/><circle cx="243.8" cy="200.3" r="1.55"/><circle cx="248.2" cy="200.1" r="1.55"/><circle cx="249.9" cy="200.7" r="1.55"/><circle cx="268.2" cy="160.2" r="1.55"/><circle cx="271.4" cy="160.4" r="1.55"/><circle cx="274.8" cy="160.4" r="1.55"/><circle cx="262.1" cy="166.6" r="1.55"/><circle cx="264.1" cy="166.3" r="1.55"/><circle cx="266.4" cy="166.1" r="1.55"/><circle cx="268.4" cy="166.7" r="1.55"/><circle cx="270.2" cy="166.1" r="1.55"/><circle cx="272.9" cy="166.3" r="1.55"/><circle cx="276.8" cy="166.0" r="1.55"/><circle cx="278.7" cy="166.1" r="1.55"/><circle cx="281.3" cy="167.0" r="1.55"/><circle cx="284.5" cy="166.7" r="1.55"/><circle cx="290.2" cy="168.0" r="1.55"/><circle cx="294.5" cy="168.2" r="1.55"/><circle cx="260.5" cy="170.8" r="1.55"/><circle cx="265.8" cy="170.4" r="1.55"/><circle cx="269.6" cy="170.7" r="1.55"/><circle cx="273.0" cy="170.7" r="1.55"/><circle cx="267.0" cy="172.5" r="1.55"/><circle cx="270.8" cy="172.7" r="1.55"/><circle cx="275.5" cy="172.0" r="1.55"/><circle cx="277.4" cy="172.6" r="1.55"/><circle cx="279.3" cy="171.9" r="1.55"/><circle cx="281.4" cy="171.9" r="1.55"/><circle cx="264.2" cy="173.7" r="1.55"/><circle cx="268.6" cy="173.8" r="1.55"/><circle cx="273.1" cy="173.7" r="1.55"/><circle cx="279.5" cy="173.9" r="1.55"/><circle cx="281.8" cy="173.7" r="1.55"/><circle cx="255.7" cy="176.1" r="1.55"/><circle cx="258.7" cy="175.9" r="1.55"/><circle cx="261.9" cy="175.6" r="1.55"/><circle cx="264.9" cy="176.7" r="1.55"/><circle cx="267.1" cy="177.4" r="1.55"/><circle cx="269.1" cy="176.8" r="1.55"/><circle cx="271.3" cy="176.8" r="1.55"/><circle cx="250.1" cy="179.4" r="1.55"/><circle cx="252.9" cy="179.8" r="1.55"/><circle cx="255.2" cy="179.3" r="1.55"/><circle cx="257.9" cy="179.7" r="1.55"/><circle cx="251.9" cy="181.7" r="1.55"/><circle cx="254.8" cy="182.3" r="1.55"/><circle cx="258.3" cy="182.1" r="1.55"/><circle cx="261.3" cy="182.3" r="1.55"/><circle cx="264.1" cy="181.7" r="1.55"/><circle cx="267.5" cy="181.9" r="1.55"/><circle cx="270.6" cy="181.8" r="1.55"/><circle cx="273.6" cy="182.2" r="1.55"/><circle cx="276.5" cy="181.9" r="1.55"/><circle cx="253.0" cy="184.9" r="1.55"/><circle cx="255.8" cy="184.2" r="1.55"/><circle cx="258.3" cy="184.5" r="1.55"/><circle cx="261.3" cy="184.7" r="1.55"/><circle cx="264.3" cy="184.9" r="1.55"/><circle cx="266.5" cy="184.2" r="1.55"/><circle cx="252.3" cy="186.6" r="1.55"/><circle cx="254.1" cy="186.6" r="1.55"/><circle cx="258.3" cy="187.2" r="1.55"/><circle cx="260.0" cy="186.6" r="1.55"/><circle cx="262.0" cy="186.7" r="1.55"/><circle cx="264.0" cy="187.0" r="1.55"/><circle cx="266.2" cy="187.4" r="1.55"/><circle cx="267.9" cy="187.0" r="1.55"/><circle cx="270.3" cy="186.6" r="1.55"/><circle cx="272.1" cy="186.6" r="1.55"/><circle cx="274.5" cy="186.8" r="1.55"/><circle cx="278.0" cy="187.0" r="1.55"/><circle cx="249.7" cy="188.9" r="1.55"/><circle cx="252.1" cy="189.3" r="1.55"/><circle cx="254.4" cy="188.6" r="1.55"/><circle cx="256.6" cy="188.4" r="1.55"/><circle cx="260.7" cy="188.6" r="1.55"/><circle cx="263.2" cy="189.2" r="1.55"/><circle cx="269.9" cy="189.4" r="1.55"/><circle cx="272.0" cy="189.0" r="1.55"/><circle cx="276.7" cy="188.9" r="1.55"/><circle cx="279.1" cy="188.9" r="1.55"/><circle cx="281.9" cy="188.9" r="1.55"/><circle cx="253.8" cy="190.5" r="1.55"/><circle cx="255.8" cy="190.9" r="1.55"/><circle cx="258.1" cy="190.9" r="1.55"/><circle cx="260.2" cy="190.3" r="1.55"/><circle cx="262.4" cy="191.1" r="1.55"/><circle cx="250.2" cy="192.5" r="1.55"/><circle cx="252.4" cy="192.8" r="1.55"/><circle cx="254.4" cy="193.0" r="1.55"/><circle cx="256.7" cy="192.7" r="1.55"/><circle cx="261.0" cy="192.6" r="1.55"/><circle cx="258.4" cy="194.0" r="1.55"/><circle cx="260.2" cy="194.8" r="1.55"/><circle cx="263.3" cy="196.3" r="1.55"/><circle cx="265.5" cy="196.5" r="1.55"/><circle cx="273.6" cy="196.4" r="1.55"/><circle cx="252.2" cy="198.7" r="1.55"/><circle cx="254.2" cy="198.3" r="1.55"/><circle cx="256.0" cy="198.7" r="1.55"/><circle cx="258.2" cy="198.2" r="1.55"/><circle cx="260.3" cy="198.2" r="1.55"/><circle cx="264.5" cy="198.1" r="1.55"/><circle cx="254.7" cy="200.1" r="1.55"/><circle cx="256.9" cy="200.9" r="1.55"/><circle cx="259.1" cy="200.3" r="1.55"/><circle cx="236.5" cy="202.6" r="1.55"/><circle cx="241.6" cy="202.7" r="1.55"/><circle cx="243.7" cy="202.5" r="1.55"/><circle cx="245.4" cy="202.7" r="1.55"/><circle cx="247.7" cy="202.7" r="1.55"/><circle cx="232.1" cy="207.6" r="1.55"/><circle cx="239.6" cy="207.6" r="1.55"/><circle cx="244.3" cy="207.5" r="1.55"/><circle cx="247.3" cy="207.6" r="1.55"/><circle cx="250.0" cy="207.4" r="1.55"/><circle cx="230.0" cy="212.2" r="1.55"/><circle cx="232.2" cy="212.1" r="1.55"/><circle cx="234.0" cy="212.0" r="1.55"/><circle cx="236.3" cy="212.3" r="1.55"/><circle cx="238.2" cy="211.9" r="1.55"/><circle cx="240.2" cy="212.1" r="1.55"/><circle cx="242.0" cy="212.1" r="1.55"/><circle cx="243.9" cy="211.6" r="1.55"/><circle cx="246.3" cy="212.4" r="1.55"/><circle cx="250.3" cy="212.3" r="1.55"/><circle cx="231.3" cy="214.8" r="1.55"/><circle cx="234.5" cy="214.5" r="1.55"/><circle cx="237.0" cy="214.2" r="1.55"/><circle cx="240.3" cy="214.9" r="1.55"/><circle cx="243.0" cy="214.5" r="1.55"/><circle cx="246.7" cy="214.9" r="1.55"/><circle cx="248.3" cy="214.1" r="1.55"/><circle cx="250.3" cy="214.5" r="1.55"/><circle cx="218.4" cy="218.2" r="1.55"/><circle cx="224.2" cy="218.3" r="1.55"/><circle cx="227.4" cy="218.2" r="1.55"/><circle cx="234.0" cy="218.2" r="1.55"/><circle cx="224.6" cy="223.2" r="1.55"/><circle cx="229.9" cy="223.1" r="1.55"/><circle cx="233.8" cy="223.4" r="1.55"/><circle cx="236.8" cy="222.9" r="1.55"/><circle cx="240.1" cy="223.3" r="1.55"/><circle cx="243.3" cy="223.4" r="1.55"/><circle cx="246.8" cy="223.2" r="1.55"/><circle cx="249.6" cy="223.2" r="1.55"/><circle cx="218.4" cy="225.1" r="1.55"/><circle cx="221.6" cy="225.1" r="1.55"/><circle cx="225.3" cy="225.1" r="1.55"/><circle cx="227.8" cy="225.3" r="1.55"/><circle cx="231.5" cy="224.7" r="1.55"/><circle cx="236.1" cy="224.8" r="1.55"/><circle cx="242.1" cy="225.2" r="1.55"/><circle cx="224.1" cy="227.4" r="1.55"/><circle cx="227.4" cy="227.4" r="1.55"/><circle cx="230.6" cy="227.2" r="1.55"/><circle cx="233.5" cy="227.5" r="1.55"/><circle cx="236.5" cy="227.6" r="1.55"/><circle cx="241.3" cy="227.6" r="1.55"/><circle cx="224.2" cy="230.3" r="1.55"/><circle cx="226.3" cy="231.1" r="1.55"/><circle cx="228.5" cy="231.1" r="1.55"/><circle cx="230.6" cy="230.6" r="1.55"/><circle cx="233.3" cy="231.2" r="1.55"/><circle cx="235.5" cy="230.5" r="1.55"/><circle cx="212.9" cy="234.9" r="1.55"/><circle cx="215.5" cy="234.2" r="1.55"/><circle cx="218.4" cy="234.8" r="1.55"/><circle cx="221.2" cy="234.1" r="1.55"/><circle cx="223.6" cy="234.7" r="1.55"/><circle cx="226.6" cy="234.9" r="1.55"/><circle cx="231.5" cy="234.5" r="1.55"/><circle cx="216.8" cy="236.7" r="1.55"/><circle cx="220.3" cy="236.6" r="1.55"/><circle cx="222.7" cy="236.7" r="1.55"/><circle cx="224.6" cy="236.7" r="1.55"/><circle cx="227.0" cy="236.8" r="1.55"/><circle cx="229.1" cy="236.3" r="1.55"/><circle cx="235.3" cy="236.4" r="1.55"/><circle cx="237.5" cy="236.4" r="1.55"/><circle cx="211.3" cy="238.3" r="1.55"/><circle cx="213.4" cy="238.1" r="1.55"/><circle cx="215.9" cy="238.3" r="1.55"/><circle cx="218.2" cy="238.2" r="1.55"/><circle cx="231.6" cy="238.4" r="1.55"/><circle cx="234.4" cy="238.1" r="1.55"/><circle cx="240.5" cy="238.5" r="1.55"/><circle cx="243.7" cy="238.5" r="1.55"/><circle cx="247.9" cy="238.5" r="1.55"/><circle cx="249.8" cy="238.5" r="1.55"/><circle cx="208.5" cy="240.1" r="1.55"/><circle cx="211.7" cy="240.1" r="1.55"/><circle cx="214.4" cy="240.3" r="1.55"/><circle cx="217.0" cy="240.4" r="1.55"/><circle cx="220.5" cy="240.4" r="1.55"/><circle cx="222.5" cy="240.6" r="1.55"/><circle cx="226.2" cy="240.4" r="1.55"/><circle cx="231.5" cy="240.1" r="1.55"/><circle cx="250.3" cy="203.0" r="1.55"/><circle cx="252.3" cy="202.7" r="1.55"/><circle cx="256.0" cy="202.6" r="1.55"/><circle cx="258.3" cy="203.4" r="1.55"/><circle cx="262.1" cy="202.5" r="1.55"/><circle cx="264.0" cy="202.5" r="1.55"/><circle cx="267.4" cy="203.0" r="1.55"/><circle cx="253.0" cy="206.5" r="1.55"/><circle cx="256.2" cy="206.7" r="1.55"/><circle cx="258.8" cy="206.5" r="1.55"/><circle cx="262.3" cy="206.2" r="1.55"/><circle cx="265.1" cy="206.8" r="1.55"/><circle cx="268.1" cy="206.5" r="1.55"/><circle cx="271.8" cy="206.4" r="1.55"/><circle cx="253.0" cy="211.2" r="1.55"/><circle cx="255.4" cy="211.0" r="1.55"/><circle cx="252.5" cy="213.5" r="1.55"/><circle cx="254.4" cy="213.5" r="1.55"/><circle cx="256.8" cy="213.6" r="1.55"/><circle cx="259.0" cy="213.9" r="1.55"/><circle cx="252.0" cy="218.5" r="1.55"/><circle cx="255.0" cy="218.1" r="1.55"/><circle cx="258.3" cy="218.0" r="1.55"/><circle cx="252.0" cy="239.0" r="1.55"/><circle cx="256.8" cy="238.9" r="1.55"/></g>
<line class="dl" x1="198.0" y1="255.7" x2="305.0" y2="149.1"/>
<rect class="fr" x="198.0" y="149.1" width="107.0" height="106.6"/>
<path class="tk" d="M209.5 256.7V260.1M197.0 244.4H193.6M224.7 256.7V260.1M197.0 229.2H193.6M239.9 256.7V260.1M197.0 214.0H193.6M255.2 256.7V260.1M197.0 198.8H193.6M270.4 256.7V260.1M197.0 183.6H193.6M285.6 256.7V260.1M197.0 168.4H193.6M300.8 256.7V260.1M197.0 153.1H193.6"/>
<text class="tl" x="209.5" y="270.0" text-anchor="middle">14</text>
<text class="tl" transform="translate(190.0,243.9) rotate(-90) scale(0.9,1)" text-anchor="middle">14</text>
<text class="tl" x="239.9" y="270.0" text-anchor="middle">18</text>
<text class="tl" transform="translate(190.0,213.5) rotate(-90) scale(0.9,1)" text-anchor="middle">18</text>
<text class="tl" x="270.4" y="270.0" text-anchor="middle">22</text>
<text class="tl" transform="translate(190.0,183.1) rotate(-90) scale(0.9,1)" text-anchor="middle">22</text>
<text class="tl" x="300.8" y="270.0" text-anchor="middle">26</text>
<text class="tl" transform="translate(190.0,152.6) rotate(-90) scale(0.9,1)" text-anchor="middle">26</text>
<text class="r2" transform="translate(205.90,163.78) scale(0.95,1.12)">R<tspan dy="-2.8" font-size="4.4px">2</tspan><tspan dy="2.8">=0.76</tspan></text>
<text class="pl" text-anchor="end" transform="translate(296.20,246.10) scale(0.97,1.08)">B2</text>
<path class="bl" d="M401.0 190.8H402.0M399.8 192.6H402.0M400.4 196.4H402.0M392.9 200.5H402.0M420.0 166.4H432.5M412.5 173.2H430.0M408.8 175.8H427.5M407.5 178.2H417.5M405.0 182.0H416.2M402.0 187.0H425.0M402.0 188.9H418.8M402.0 190.8H416.2M402.0 192.6H413.8M402.0 194.5H416.2M402.0 198.2H416.2M402.0 200.5H410.0M392.2 203.0H402.0M387.2 212.0H402.0M386.0 213.9H402.0M381.6 218.2H381.6M391.0 223.2H402.0M378.5 225.1H396.0M379.8 228.9H389.8M374.8 232.0H383.5M373.5 234.5H386.0M371.0 236.4H384.8M367.2 238.5H398.5M368.5 240.1H378.5M402.0 202.6H407.5M402.0 211.4H406.2M402.0 214.5H409.4"/>
<g class="pt"><circle cx="402.0" cy="187.0" r="1.55"/><circle cx="388.4" cy="192.2" r="1.55"/><circle cx="390.8" cy="192.2" r="1.55"/><circle cx="393.6" cy="192.2" r="1.55"/><circle cx="397.2" cy="192.2" r="1.55"/><circle cx="401.0" cy="190.8" r="1.55"/><circle cx="400.0" cy="192.6" r="1.55"/><circle cx="400.2" cy="196.4" r="1.55"/><circle cx="402.2" cy="196.4" r="1.55"/><circle cx="392.5" cy="201.0" r="1.55"/><circle cx="395.1" cy="200.5" r="1.55"/><circle cx="397.2" cy="200.2" r="1.55"/><circle cx="399.5" cy="200.6" r="1.55"/><circle cx="402.3" cy="200.3" r="1.55"/><circle cx="420.5" cy="160.0" r="1.55"/><circle cx="423.4" cy="159.7" r="1.55"/><circle cx="427.1" cy="160.5" r="1.55"/><circle cx="429.7" cy="159.8" r="1.55"/><circle cx="416.2" cy="166.4" r="1.55"/><circle cx="420.0" cy="166.2" r="1.55"/><circle cx="421.9" cy="166.7" r="1.55"/><circle cx="424.0" cy="166.1" r="1.55"/><circle cx="426.5" cy="166.5" r="1.55"/><circle cx="428.5" cy="166.5" r="1.55"/><circle cx="432.2" cy="166.1" r="1.55"/><circle cx="440.0" cy="168.5" r="1.55"/><circle cx="443.4" cy="167.9" r="1.55"/><circle cx="409.7" cy="170.4" r="1.55"/><circle cx="412.2" cy="171.1" r="1.55"/><circle cx="414.7" cy="170.8" r="1.55"/><circle cx="418.5" cy="170.4" r="1.55"/><circle cx="421.8" cy="170.6" r="1.55"/><circle cx="425.3" cy="171.0" r="1.55"/><circle cx="428.5" cy="170.8" r="1.55"/><circle cx="431.6" cy="170.5" r="1.55"/><circle cx="435.0" cy="170.7" r="1.55"/><circle cx="412.8" cy="173.0" r="1.55"/><circle cx="416.7" cy="173.0" r="1.55"/><circle cx="419.0" cy="173.6" r="1.55"/><circle cx="421.4" cy="173.3" r="1.55"/><circle cx="423.7" cy="173.6" r="1.55"/><circle cx="427.6" cy="173.2" r="1.55"/><circle cx="429.9" cy="173.0" r="1.55"/><circle cx="408.4" cy="175.4" r="1.55"/><circle cx="411.0" cy="176.2" r="1.55"/><circle cx="413.2" cy="175.3" r="1.55"/><circle cx="415.0" cy="175.4" r="1.55"/><circle cx="417.1" cy="175.8" r="1.55"/><circle cx="421.2" cy="175.3" r="1.55"/><circle cx="423.6" cy="176.1" r="1.55"/><circle cx="427.7" cy="175.3" r="1.55"/><circle cx="407.6" cy="178.2" r="1.55"/><circle cx="411.5" cy="178.6" r="1.55"/><circle cx="413.8" cy="178.7" r="1.55"/><circle cx="415.6" cy="178.6" r="1.55"/><circle cx="426.2" cy="178.2" r="1.55"/><circle cx="430.0" cy="178.2" r="1.55"/><circle cx="404.9" cy="182.3" r="1.55"/><circle cx="407.3" cy="182.3" r="1.55"/><circle cx="409.5" cy="182.4" r="1.55"/><circle cx="411.6" cy="182.5" r="1.55"/><circle cx="414.0" cy="181.9" r="1.55"/><circle cx="416.3" cy="181.6" r="1.55"/><circle cx="418.9" cy="182.1" r="1.55"/><circle cx="421.5" cy="181.7" r="1.55"/><circle cx="423.7" cy="182.1" r="1.55"/><circle cx="430.0" cy="182.0" r="1.55"/><circle cx="401.7" cy="184.5" r="1.55"/><circle cx="405.2" cy="184.5" r="1.55"/><circle cx="404.3" cy="187.4" r="1.55"/><circle cx="406.2" cy="187.0" r="1.55"/><circle cx="408.5" cy="187.2" r="1.55"/><circle cx="412.6" cy="187.3" r="1.55"/><circle cx="414.3" cy="186.7" r="1.55"/><circle cx="416.8" cy="187.2" r="1.55"/><circle cx="418.9" cy="187.0" r="1.55"/><circle cx="420.7" cy="187.5" r="1.55"/><circle cx="422.7" cy="186.8" r="1.55"/><circle cx="424.7" cy="186.6" r="1.55"/><circle cx="402.1" cy="189.0" r="1.55"/><circle cx="408.4" cy="189.2" r="1.55"/><circle cx="410.3" cy="189.2" r="1.55"/><circle cx="414.8" cy="188.9" r="1.55"/><circle cx="416.7" cy="189.3" r="1.55"/><circle cx="428.8" cy="188.9" r="1.55"/><circle cx="404.1" cy="190.9" r="1.55"/><circle cx="406.2" cy="190.3" r="1.55"/><circle cx="412.4" cy="191.0" r="1.55"/><circle cx="416.2" cy="191.2" r="1.55"/><circle cx="401.8" cy="192.5" r="1.55"/><circle cx="405.9" cy="192.7" r="1.55"/><circle cx="409.6" cy="193.1" r="1.55"/><circle cx="411.9" cy="193.1" r="1.55"/><circle cx="413.7" cy="193.0" r="1.55"/><circle cx="404.0" cy="194.5" r="1.55"/><circle cx="410.4" cy="194.7" r="1.55"/><circle cx="416.3" cy="194.5" r="1.55"/><circle cx="423.8" cy="196.4" r="1.55"/><circle cx="404.2" cy="198.0" r="1.55"/><circle cx="406.0" cy="198.5" r="1.55"/><circle cx="408.4" cy="198.3" r="1.55"/><circle cx="412.2" cy="198.6" r="1.55"/><circle cx="414.4" cy="198.0" r="1.55"/><circle cx="406.2" cy="200.3" r="1.55"/><circle cx="409.7" cy="200.2" r="1.55"/><circle cx="392.2" cy="202.7" r="1.55"/><circle cx="393.9" cy="203.0" r="1.55"/><circle cx="396.3" cy="203.3" r="1.55"/><circle cx="400.0" cy="203.2" r="1.55"/><circle cx="401.8" cy="203.1" r="1.55"/><circle cx="384.1" cy="207.6" r="1.55"/><circle cx="391.6" cy="207.6" r="1.55"/><circle cx="397.0" cy="207.9" r="1.55"/><circle cx="399.9" cy="208.0" r="1.55"/><circle cx="401.9" cy="207.3" r="1.55"/><circle cx="387.5" cy="211.9" r="1.55"/><circle cx="389.3" cy="211.9" r="1.55"/><circle cx="391.6" cy="212.2" r="1.55"/><circle cx="393.5" cy="211.8" r="1.55"/><circle cx="395.4" cy="211.6" r="1.55"/><circle cx="398.1" cy="212.5" r="1.55"/><circle cx="402.3" cy="212.1" r="1.55"/><circle cx="386.3" cy="213.5" r="1.55"/><circle cx="388.2" cy="214.2" r="1.55"/><circle cx="394.1" cy="214.3" r="1.55"/><circle cx="396.1" cy="214.1" r="1.55"/><circle cx="399.7" cy="213.8" r="1.55"/><circle cx="402.0" cy="214.1" r="1.55"/><circle cx="398.8" cy="215.7" r="1.55"/><circle cx="366.0" cy="218.2" r="1.55"/><circle cx="376.0" cy="218.2" r="1.55"/><circle cx="381.6" cy="218.3" r="1.55"/><circle cx="387.2" cy="218.2" r="1.55"/><circle cx="379.8" cy="223.2" r="1.55"/><circle cx="390.9" cy="223.6" r="1.55"/><circle cx="393.5" cy="223.7" r="1.55"/><circle cx="397.8" cy="223.7" r="1.55"/><circle cx="399.8" cy="223.2" r="1.55"/><circle cx="401.8" cy="222.8" r="1.55"/><circle cx="375.4" cy="225.1" r="1.55"/><circle cx="378.2" cy="224.9" r="1.55"/><circle cx="380.8" cy="225.0" r="1.55"/><circle cx="382.9" cy="224.9" r="1.55"/><circle cx="385.4" cy="225.5" r="1.55"/><circle cx="387.1" cy="225.0" r="1.55"/><circle cx="389.2" cy="225.0" r="1.55"/><circle cx="391.4" cy="225.4" r="1.55"/><circle cx="395.7" cy="225.3" r="1.55"/><circle cx="377.3" cy="226.8" r="1.55"/><circle cx="380.7" cy="227.3" r="1.55"/><circle cx="384.0" cy="227.2" r="1.55"/><circle cx="387.0" cy="227.1" r="1.55"/><circle cx="390.4" cy="226.9" r="1.55"/><circle cx="393.8" cy="227.2" r="1.55"/><circle cx="379.9" cy="229.1" r="1.55"/><circle cx="383.7" cy="229.1" r="1.55"/><circle cx="385.9" cy="228.8" r="1.55"/><circle cx="387.9" cy="229.2" r="1.55"/><circle cx="395.4" cy="230.5" r="1.55"/><circle cx="400.4" cy="230.5" r="1.55"/><circle cx="375.0" cy="232.3" r="1.55"/><circle cx="377.0" cy="232.3" r="1.55"/><circle cx="379.0" cy="231.9" r="1.55"/><circle cx="381.0" cy="232.4" r="1.55"/><circle cx="383.7" cy="232.0" r="1.55"/><circle cx="368.0" cy="234.8" r="1.55"/><circle cx="372.0" cy="234.6" r="1.55"/><circle cx="375.9" cy="234.3" r="1.55"/><circle cx="377.8" cy="234.8" r="1.55"/><circle cx="379.7" cy="234.9" r="1.55"/><circle cx="381.8" cy="234.1" r="1.55"/><circle cx="383.7" cy="234.4" r="1.55"/><circle cx="386.3" cy="234.9" r="1.55"/><circle cx="371.3" cy="236.5" r="1.55"/><circle cx="375.0" cy="236.8" r="1.55"/><circle cx="376.8" cy="236.3" r="1.55"/><circle cx="379.0" cy="236.7" r="1.55"/><circle cx="382.9" cy="236.1" r="1.55"/><circle cx="366.9" cy="238.1" r="1.55"/><circle cx="369.5" cy="238.8" r="1.55"/><circle cx="373.5" cy="238.8" r="1.55"/><circle cx="377.9" cy="238.1" r="1.55"/><circle cx="381.5" cy="238.4" r="1.55"/><circle cx="384.1" cy="238.1" r="1.55"/><circle cx="386.2" cy="238.9" r="1.55"/><circle cx="388.4" cy="238.6" r="1.55"/><circle cx="390.4" cy="238.2" r="1.55"/><circle cx="392.3" cy="238.9" r="1.55"/><circle cx="394.6" cy="238.2" r="1.55"/><circle cx="396.6" cy="238.4" r="1.55"/><circle cx="398.5" cy="238.8" r="1.55"/><circle cx="402.9" cy="238.5" r="1.55"/><circle cx="362.4" cy="240.1" r="1.55"/><circle cx="365.9" cy="240.1" r="1.55"/><circle cx="368.7" cy="240.6" r="1.55"/><circle cx="372.2" cy="240.2" r="1.55"/><circle cx="376.8" cy="239.7" r="1.55"/><circle cx="404.0" cy="202.6" r="1.55"/><circle cx="407.3" cy="202.8" r="1.55"/><circle cx="411.4" cy="202.6" r="1.55"/><circle cx="413.8" cy="202.6" r="1.55"/><circle cx="404.8" cy="206.5" r="1.55"/><circle cx="407.6" cy="206.3" r="1.55"/><circle cx="410.9" cy="206.2" r="1.55"/><circle cx="413.7" cy="206.6" r="1.55"/><circle cx="419.0" cy="206.4" r="1.55"/><circle cx="422.2" cy="206.4" r="1.55"/><circle cx="406.2" cy="211.0" r="1.55"/><circle cx="403.9" cy="214.1" r="1.55"/><circle cx="407.5" cy="214.2" r="1.55"/><circle cx="404.8" cy="218.1" r="1.55"/><circle cx="409.6" cy="218.6" r="1.55"/><circle cx="404.6" cy="222.9" r="1.55"/><circle cx="402.5" cy="225.8" r="1.55"/></g>
<line class="dl" x1="351.0" y1="255.7" x2="458.0" y2="149.1"/>
<rect class="fr" x="351.0" y="149.1" width="107.0" height="106.6"/>
<path class="tk" d="M362.3 256.7V260.1M350.0 244.4H346.6M377.6 256.7V260.1M350.0 229.2H346.6M392.8 256.7V260.1M350.0 214.0H346.6M408.1 256.7V260.1M350.0 198.8H346.6M423.4 256.7V260.1M350.0 183.6H346.6M438.6 256.7V260.1M350.0 168.4H346.6M453.9 256.7V260.1M350.0 153.1H346.6"/>
<text class="tl" x="362.3" y="270.0" text-anchor="middle">14</text>
<text class="tl" transform="translate(343.0,243.9) rotate(-90) scale(0.9,1)" text-anchor="middle">14</text>
<text class="tl" x="392.8" y="270.0" text-anchor="middle">18</text>
<text class="tl" transform="translate(343.0,213.5) rotate(-90) scale(0.9,1)" text-anchor="middle">18</text>
<text class="tl" x="423.4" y="270.0" text-anchor="middle">22</text>
<text class="tl" transform="translate(343.0,183.1) rotate(-90) scale(0.9,1)" text-anchor="middle">22</text>
<text class="tl" x="453.9" y="270.0" text-anchor="middle">26</text>
<text class="tl" transform="translate(343.0,152.6) rotate(-90) scale(0.9,1)" text-anchor="middle">26</text>
<text class="r2" transform="translate(358.90,163.78) scale(0.95,1.12)">R<tspan dy="-2.8" font-size="4.4px">2</tspan><tspan dy="2.8">=0.79</tspan></text>
<text class="pl" text-anchor="end" transform="translate(450.60,246.10) scale(0.97,1.08)">B3</text>
<text class="hd" transform="translate(12.2,331.7) rotate(-90)" text-anchor="middle">gapDer</text>
<text class="ax" transform="translate(26.3,331.7) rotate(-90)" text-anchor="middle">Measured&#160;&#160;SOC (g kg<tspan dy="-3.2" font-size="5.9px">&#8722;1</tspan><tspan dy="3.2">)</tspan></text>
<path class="bl" d="M88.5 315.4H91.0M91.6 319.8H97.0M92.2 325.4H97.0M92.2 329.1H97.0M121.2 295.4H132.5M105.0 302.2H115.0M113.8 305.4H126.2M130.0 307.2H136.2M107.5 310.4H116.2M97.0 315.8H116.2M127.5 317.2H127.5M97.0 318.5H110.0M97.0 320.4H107.5M97.0 322.2H105.0M97.0 324.8H102.5M97.0 329.1H101.2M89.8 331.6H97.0M92.2 336.6H97.0M84.8 340.4H93.5M83.5 343.5H97.0M94.8 352.2H94.8M76.0 354.1H83.5M77.2 359.1H83.5M66.6 363.2H66.6M71.0 363.2H82.2M71.0 365.4H81.0M63.5 367.2H87.2M53.5 368.8H59.8M62.2 368.8H71.0M97.0 331.6H106.2M97.0 340.4H98.8M97.0 342.9H101.9M97.0 357.2H97.0"/>
<g class="pt"><circle cx="97.9" cy="307.2" r="1.55"/><circle cx="88.7" cy="315.2" r="1.55"/><circle cx="90.8" cy="315.3" r="1.55"/><circle cx="97.1" cy="315.4" r="1.55"/><circle cx="87.9" cy="319.8" r="1.55"/><circle cx="91.9" cy="319.9" r="1.55"/><circle cx="93.6" cy="319.4" r="1.55"/><circle cx="96.9" cy="320.0" r="1.55"/><circle cx="97.2" cy="322.5" r="1.55"/><circle cx="92.3" cy="325.0" r="1.55"/><circle cx="94.4" cy="325.8" r="1.55"/><circle cx="97.3" cy="325.5" r="1.55"/><circle cx="79.4" cy="329.1" r="1.55"/><circle cx="83.2" cy="329.1" r="1.55"/><circle cx="87.6" cy="329.1" r="1.55"/><circle cx="91.2" cy="329.1" r="1.55"/><circle cx="94.9" cy="328.7" r="1.55"/><circle cx="97.1" cy="329.3" r="1.55"/><circle cx="110.6" cy="288.8" r="1.55"/><circle cx="120.5" cy="289.0" r="1.55"/><circle cx="123.8" cy="289.1" r="1.55"/><circle cx="127.8" cy="288.6" r="1.55"/><circle cx="108.8" cy="295.4" r="1.55"/><circle cx="114.9" cy="295.6" r="1.55"/><circle cx="117.4" cy="295.4" r="1.55"/><circle cx="120.1" cy="295.7" r="1.55"/><circle cx="123.4" cy="295.0" r="1.55"/><circle cx="126.0" cy="295.7" r="1.55"/><circle cx="127.8" cy="295.3" r="1.55"/><circle cx="130.1" cy="295.2" r="1.55"/><circle cx="132.2" cy="295.5" r="1.55"/><circle cx="107.8" cy="298.9" r="1.55"/><circle cx="110.5" cy="299.3" r="1.55"/><circle cx="113.1" cy="299.4" r="1.55"/><circle cx="115.9" cy="299.2" r="1.55"/><circle cx="118.4" cy="298.8" r="1.55"/><circle cx="127.6" cy="299.4" r="1.55"/><circle cx="130.0" cy="299.5" r="1.55"/><circle cx="132.5" cy="299.1" r="1.55"/><circle cx="105.2" cy="302.7" r="1.55"/><circle cx="107.3" cy="302.4" r="1.55"/><circle cx="111.0" cy="301.8" r="1.55"/><circle cx="112.9" cy="302.5" r="1.55"/><circle cx="114.8" cy="302.4" r="1.55"/><circle cx="119.3" cy="302.1" r="1.55"/><circle cx="122.3" cy="302.1" r="1.55"/><circle cx="126.5" cy="302.5" r="1.55"/><circle cx="129.6" cy="302.5" r="1.55"/><circle cx="132.9" cy="302.5" r="1.55"/><circle cx="136.1" cy="302.5" r="1.55"/><circle cx="113.6" cy="305.7" r="1.55"/><circle cx="115.7" cy="305.0" r="1.55"/><circle cx="117.8" cy="305.5" r="1.55"/><circle cx="120.3" cy="305.7" r="1.55"/><circle cx="122.1" cy="305.0" r="1.55"/><circle cx="124.4" cy="304.9" r="1.55"/><circle cx="126.3" cy="305.8" r="1.55"/><circle cx="101.0" cy="307.2" r="1.55"/><circle cx="104.9" cy="307.2" r="1.55"/><circle cx="107.4" cy="306.9" r="1.55"/><circle cx="110.7" cy="307.4" r="1.55"/><circle cx="116.7" cy="307.1" r="1.55"/><circle cx="130.0" cy="306.8" r="1.55"/><circle cx="131.7" cy="307.2" r="1.55"/><circle cx="133.9" cy="307.6" r="1.55"/><circle cx="136.4" cy="307.6" r="1.55"/><circle cx="107.6" cy="310.1" r="1.55"/><circle cx="109.9" cy="310.2" r="1.55"/><circle cx="111.6" cy="309.9" r="1.55"/><circle cx="114.0" cy="310.8" r="1.55"/><circle cx="116.4" cy="310.5" r="1.55"/><circle cx="118.8" cy="310.4" r="1.55"/><circle cx="127.4" cy="310.4" r="1.55"/><circle cx="130.0" cy="310.4" r="1.55"/><circle cx="119.4" cy="313.5" r="1.55"/><circle cx="99.0" cy="315.8" r="1.55"/><circle cx="101.3" cy="315.5" r="1.55"/><circle cx="103.4" cy="315.3" r="1.55"/><circle cx="105.8" cy="315.7" r="1.55"/><circle cx="107.8" cy="316.0" r="1.55"/><circle cx="109.6" cy="316.2" r="1.55"/><circle cx="112.3" cy="315.7" r="1.55"/><circle cx="116.4" cy="315.5" r="1.55"/><circle cx="119.8" cy="315.4" r="1.55"/><circle cx="122.6" cy="316.0" r="1.55"/><circle cx="127.5" cy="317.4" r="1.55"/><circle cx="98.9" cy="318.2" r="1.55"/><circle cx="101.2" cy="318.2" r="1.55"/><circle cx="103.2" cy="318.4" r="1.55"/><circle cx="105.3" cy="318.5" r="1.55"/><circle cx="107.5" cy="318.4" r="1.55"/><circle cx="109.7" cy="318.2" r="1.55"/><circle cx="99.3" cy="320.6" r="1.55"/><circle cx="101.3" cy="320.4" r="1.55"/><circle cx="107.2" cy="320.3" r="1.55"/><circle cx="102.9" cy="321.9" r="1.55"/><circle cx="104.7" cy="322.2" r="1.55"/><circle cx="116.9" cy="322.2" r="1.55"/><circle cx="98.9" cy="324.4" r="1.55"/><circle cx="100.7" cy="325.1" r="1.55"/><circle cx="107.3" cy="327.2" r="1.55"/><circle cx="111.0" cy="327.2" r="1.55"/><circle cx="113.5" cy="327.2" r="1.55"/><circle cx="117.0" cy="327.2" r="1.55"/><circle cx="119.9" cy="327.2" r="1.55"/><circle cx="98.9" cy="329.5" r="1.55"/><circle cx="101.3" cy="328.6" r="1.55"/><circle cx="89.6" cy="331.3" r="1.55"/><circle cx="92.0" cy="331.3" r="1.55"/><circle cx="94.7" cy="331.7" r="1.55"/><circle cx="96.9" cy="331.4" r="1.55"/><circle cx="82.3" cy="336.5" r="1.55"/><circle cx="85.4" cy="336.9" r="1.55"/><circle cx="88.2" cy="337.0" r="1.55"/><circle cx="90.9" cy="336.9" r="1.55"/><circle cx="94.7" cy="336.4" r="1.55"/><circle cx="96.8" cy="337.0" r="1.55"/><circle cx="84.7" cy="340.0" r="1.55"/><circle cx="87.0" cy="340.0" r="1.55"/><circle cx="88.8" cy="340.1" r="1.55"/><circle cx="91.5" cy="340.1" r="1.55"/><circle cx="93.8" cy="339.9" r="1.55"/><circle cx="96.0" cy="340.4" r="1.55"/><circle cx="83.4" cy="343.0" r="1.55"/><circle cx="85.9" cy="343.6" r="1.55"/><circle cx="88.2" cy="343.8" r="1.55"/><circle cx="90.5" cy="343.4" r="1.55"/><circle cx="92.4" cy="343.6" r="1.55"/><circle cx="94.7" cy="343.2" r="1.55"/><circle cx="97.0" cy="343.4" r="1.55"/><circle cx="76.3" cy="345.4" r="1.55"/><circle cx="78.2" cy="345.4" r="1.55"/><circle cx="81.2" cy="345.4" r="1.55"/><circle cx="81.0" cy="347.2" r="1.55"/><circle cx="86.1" cy="347.6" r="1.55"/><circle cx="89.4" cy="347.4" r="1.55"/><circle cx="92.4" cy="347.5" r="1.55"/><circle cx="95.7" cy="347.3" r="1.55"/><circle cx="75.7" cy="352.0" r="1.55"/><circle cx="79.3" cy="352.2" r="1.55"/><circle cx="82.4" cy="352.0" r="1.55"/><circle cx="85.1" cy="352.1" r="1.55"/><circle cx="88.5" cy="352.5" r="1.55"/><circle cx="94.8" cy="352.6" r="1.55"/><circle cx="67.9" cy="354.1" r="1.55"/><circle cx="75.9" cy="354.6" r="1.55"/><circle cx="77.9" cy="353.8" r="1.55"/><circle cx="79.8" cy="354.3" r="1.55"/><circle cx="81.8" cy="353.7" r="1.55"/><circle cx="83.8" cy="354.2" r="1.55"/><circle cx="87.5" cy="355.0" r="1.55"/><circle cx="89.6" cy="355.5" r="1.55"/><circle cx="85.7" cy="357.4" r="1.55"/><circle cx="92.9" cy="356.9" r="1.55"/><circle cx="95.8" cy="357.5" r="1.55"/><circle cx="77.3" cy="358.8" r="1.55"/><circle cx="79.3" cy="359.5" r="1.55"/><circle cx="81.2" cy="358.7" r="1.55"/><circle cx="83.5" cy="358.8" r="1.55"/><circle cx="73.5" cy="361.0" r="1.55"/><circle cx="66.6" cy="363.4" r="1.55"/><circle cx="70.8" cy="362.9" r="1.55"/><circle cx="73.3" cy="363.7" r="1.55"/><circle cx="75.5" cy="363.7" r="1.55"/><circle cx="78.1" cy="363.5" r="1.55"/><circle cx="80.1" cy="363.1" r="1.55"/><circle cx="82.0" cy="363.3" r="1.55"/><circle cx="70.8" cy="365.4" r="1.55"/><circle cx="73.0" cy="365.4" r="1.55"/><circle cx="75.1" cy="365.4" r="1.55"/><circle cx="77.3" cy="365.4" r="1.55"/><circle cx="81.2" cy="365.2" r="1.55"/><circle cx="63.5" cy="367.3" r="1.55"/><circle cx="65.6" cy="367.4" r="1.55"/><circle cx="68.2" cy="366.8" r="1.55"/><circle cx="70.3" cy="367.7" r="1.55"/><circle cx="72.4" cy="367.2" r="1.55"/><circle cx="74.4" cy="367.2" r="1.55"/><circle cx="78.4" cy="367.2" r="1.55"/><circle cx="80.6" cy="367.0" r="1.55"/><circle cx="83.0" cy="367.0" r="1.55"/><circle cx="85.3" cy="366.8" r="1.55"/><circle cx="87.1" cy="367.2" r="1.55"/><circle cx="49.8" cy="368.8" r="1.55"/><circle cx="53.3" cy="369.1" r="1.55"/><circle cx="55.6" cy="368.3" r="1.55"/><circle cx="57.5" cy="368.9" r="1.55"/><circle cx="59.6" cy="368.5" r="1.55"/><circle cx="68.8" cy="369.0" r="1.55"/><circle cx="71.3" cy="369.2" r="1.55"/><circle cx="99.3" cy="331.7" r="1.55"/><circle cx="101.6" cy="332.1" r="1.55"/><circle cx="104.0" cy="331.6" r="1.55"/><circle cx="106.6" cy="331.6" r="1.55"/><circle cx="96.7" cy="334.9" r="1.55"/><circle cx="100.2" cy="334.9" r="1.55"/><circle cx="102.5" cy="335.0" r="1.55"/><circle cx="105.2" cy="335.0" r="1.55"/><circle cx="108.1" cy="335.0" r="1.55"/><circle cx="111.0" cy="334.5" r="1.55"/><circle cx="114.4" cy="334.8" r="1.55"/><circle cx="98.9" cy="340.4" r="1.55"/><circle cx="99.7" cy="342.7" r="1.55"/><circle cx="101.6" cy="342.8" r="1.55"/><circle cx="97.0" cy="351.6" r="1.55"/></g>
<line class="dl" x1="45.0" y1="384.6" x2="152.0" y2="278.0"/>
<rect class="fr" x="45.0" y="278.0" width="107.0" height="106.6"/>
<path class="tk" d="M57.0 385.6V389.0M44.0 373.4H40.6M72.2 385.6V389.0M44.0 358.1H40.6M87.3 385.6V389.0M44.0 342.9H40.6M102.5 385.6V389.0M44.0 327.7H40.6M117.7 385.6V389.0M44.0 312.5H40.6M132.8 385.6V389.0M44.0 297.3H40.6M148.0 385.6V389.0M44.0 282.1H40.6"/>
<text class="tl" x="57.0" y="398.9" text-anchor="middle">14</text>
<text class="tl" transform="translate(37.0,372.9) rotate(-90) scale(0.9,1)" text-anchor="middle">14</text>
<text class="tl" x="87.3" y="398.9" text-anchor="middle">18</text>
<text class="tl" transform="translate(37.0,342.4) rotate(-90) scale(0.9,1)" text-anchor="middle">18</text>
<text class="tl" x="117.7" y="398.9" text-anchor="middle">22</text>
<text class="tl" transform="translate(37.0,312.0) rotate(-90) scale(0.9,1)" text-anchor="middle">22</text>
<text class="tl" x="148.0" y="398.9" text-anchor="middle">26</text>
<text class="tl" transform="translate(37.0,281.6) rotate(-90) scale(0.9,1)" text-anchor="middle">26</text>
<text class="r2" transform="translate(52.90,292.71) scale(0.95,1.12)">R<tspan dy="-2.8" font-size="4.4px">2</tspan><tspan dy="2.8">=0.8</tspan></text>
<text class="pl" text-anchor="end" transform="translate(148.20,379.90) scale(0.97,1.08)">C1</text>
<path class="bl" d="M249.0 316.0H250.0M249.0 322.2H250.0M242.8 325.4H247.8M245.2 329.1H250.0M255.5 295.4H255.5M273.0 295.4H285.5M286.8 302.2H291.1M271.8 305.4H281.8M261.8 312.9H268.0M250.0 316.0H273.0M250.0 318.5H264.2M250.0 320.4H260.5M250.0 322.2H259.2M250.0 324.8H255.5M250.0 329.1H259.2M241.5 331.6H250.0M232.8 341.0H250.0M227.8 351.6H241.5M249.6 351.6H250.0M231.5 359.1H236.5M226.5 361.0H232.8M226.5 363.2H236.5M222.8 365.4H235.2M214.0 367.2H241.5M205.2 368.5H214.0M250.0 331.6H263.0M250.0 334.8H255.5M250.0 342.9H255.5M250.0 346.6H250.5M250.5 352.0H253.0"/>
<g class="pt"><circle cx="250.0" cy="307.2" r="1.55"/><circle cx="245.6" cy="315.1" r="1.55"/><circle cx="247.5" cy="315.8" r="1.55"/><circle cx="244.1" cy="318.8" r="1.55"/><circle cx="247.2" cy="318.7" r="1.55"/><circle cx="250.1" cy="318.7" r="1.55"/><circle cx="233.8" cy="320.3" r="1.55"/><circle cx="236.9" cy="319.7" r="1.55"/><circle cx="240.4" cy="320.4" r="1.55"/><circle cx="249.0" cy="322.5" r="1.55"/><circle cx="242.8" cy="325.0" r="1.55"/><circle cx="245.3" cy="325.1" r="1.55"/><circle cx="247.8" cy="325.3" r="1.55"/><circle cx="233.7" cy="329.2" r="1.55"/><circle cx="237.1" cy="329.3" r="1.55"/><circle cx="239.6" cy="329.5" r="1.55"/><circle cx="243.1" cy="329.0" r="1.55"/><circle cx="245.6" cy="328.8" r="1.55"/><circle cx="247.6" cy="329.5" r="1.55"/><circle cx="249.7" cy="329.0" r="1.55"/><circle cx="262.8" cy="288.8" r="1.55"/><circle cx="271.4" cy="288.5" r="1.55"/><circle cx="274.8" cy="289.0" r="1.55"/><circle cx="278.1" cy="288.4" r="1.55"/><circle cx="255.5" cy="295.7" r="1.55"/><circle cx="260.7" cy="295.4" r="1.55"/><circle cx="262.9" cy="295.4" r="1.55"/><circle cx="265.3" cy="295.4" r="1.55"/><circle cx="269.4" cy="295.4" r="1.55"/><circle cx="272.1" cy="295.4" r="1.55"/><circle cx="275.0" cy="295.8" r="1.55"/><circle cx="276.9" cy="294.9" r="1.55"/><circle cx="279.0" cy="295.3" r="1.55"/><circle cx="281.7" cy="294.9" r="1.55"/><circle cx="283.6" cy="295.4" r="1.55"/><circle cx="285.8" cy="295.8" r="1.55"/><circle cx="288.6" cy="296.0" r="1.55"/><circle cx="263.2" cy="299.5" r="1.55"/><circle cx="266.4" cy="299.4" r="1.55"/><circle cx="269.6" cy="299.7" r="1.55"/><circle cx="272.2" cy="300.1" r="1.55"/><circle cx="275.5" cy="299.7" r="1.55"/><circle cx="278.5" cy="299.7" r="1.55"/><circle cx="281.6" cy="299.8" r="1.55"/><circle cx="261.7" cy="302.1" r="1.55"/><circle cx="264.4" cy="302.0" r="1.55"/><circle cx="268.0" cy="302.4" r="1.55"/><circle cx="271.2" cy="302.0" r="1.55"/><circle cx="274.2" cy="302.6" r="1.55"/><circle cx="276.8" cy="302.6" r="1.55"/><circle cx="280.3" cy="302.5" r="1.55"/><circle cx="283.0" cy="302.5" r="1.55"/><circle cx="286.5" cy="301.9" r="1.55"/><circle cx="288.7" cy="302.4" r="1.55"/><circle cx="291.4" cy="301.9" r="1.55"/><circle cx="260.2" cy="305.7" r="1.55"/><circle cx="264.1" cy="305.1" r="1.55"/><circle cx="266.8" cy="305.2" r="1.55"/><circle cx="270.3" cy="305.0" r="1.55"/><circle cx="273.4" cy="305.3" r="1.55"/><circle cx="275.9" cy="305.6" r="1.55"/><circle cx="277.6" cy="305.0" r="1.55"/><circle cx="279.7" cy="305.2" r="1.55"/><circle cx="281.7" cy="305.2" r="1.55"/><circle cx="253.1" cy="307.2" r="1.55"/><circle cx="255.2" cy="307.2" r="1.55"/><circle cx="259.1" cy="307.5" r="1.55"/><circle cx="261.7" cy="307.5" r="1.55"/><circle cx="264.0" cy="307.6" r="1.55"/><circle cx="268.9" cy="307.5" r="1.55"/><circle cx="271.9" cy="307.4" r="1.55"/><circle cx="275.1" cy="307.4" r="1.55"/><circle cx="278.0" cy="307.0" r="1.55"/><circle cx="280.7" cy="307.3" r="1.55"/><circle cx="271.5" cy="310.4" r="1.55"/><circle cx="274.1" cy="310.4" r="1.55"/><circle cx="276.5" cy="310.4" r="1.55"/><circle cx="280.8" cy="310.2" r="1.55"/><circle cx="282.9" cy="310.1" r="1.55"/><circle cx="285.7" cy="310.4" r="1.55"/><circle cx="261.5" cy="313.2" r="1.55"/><circle cx="263.9" cy="313.2" r="1.55"/><circle cx="266.1" cy="312.8" r="1.55"/><circle cx="267.9" cy="313.3" r="1.55"/><circle cx="249.8" cy="315.6" r="1.55"/><circle cx="252.3" cy="316.2" r="1.55"/><circle cx="254.5" cy="316.1" r="1.55"/><circle cx="256.6" cy="315.9" r="1.55"/><circle cx="260.3" cy="315.9" r="1.55"/><circle cx="262.5" cy="315.8" r="1.55"/><circle cx="264.6" cy="316.1" r="1.55"/><circle cx="266.4" cy="316.4" r="1.55"/><circle cx="268.7" cy="316.2" r="1.55"/><circle cx="270.8" cy="315.6" r="1.55"/><circle cx="272.9" cy="315.7" r="1.55"/><circle cx="278.0" cy="317.2" r="1.55"/><circle cx="284.1" cy="317.2" r="1.55"/><circle cx="288.1" cy="317.2" r="1.55"/><circle cx="252.2" cy="318.6" r="1.55"/><circle cx="255.8" cy="318.7" r="1.55"/><circle cx="258.0" cy="318.6" r="1.55"/><circle cx="260.5" cy="318.7" r="1.55"/><circle cx="262.3" cy="318.6" r="1.55"/><circle cx="264.1" cy="318.5" r="1.55"/><circle cx="252.4" cy="320.4" r="1.55"/><circle cx="254.4" cy="320.8" r="1.55"/><circle cx="258.7" cy="320.4" r="1.55"/><circle cx="256.8" cy="322.0" r="1.55"/><circle cx="259.3" cy="322.4" r="1.55"/><circle cx="266.1" cy="322.2" r="1.55"/><circle cx="250.0" cy="324.4" r="1.55"/><circle cx="253.7" cy="325.2" r="1.55"/><circle cx="255.6" cy="325.1" r="1.55"/><circle cx="255.2" cy="327.2" r="1.55"/><circle cx="258.2" cy="327.2" r="1.55"/><circle cx="261.5" cy="327.2" r="1.55"/><circle cx="264.3" cy="327.2" r="1.55"/><circle cx="267.4" cy="327.2" r="1.55"/><circle cx="270.7" cy="327.2" r="1.55"/><circle cx="252.3" cy="329.2" r="1.55"/><circle cx="257.1" cy="328.7" r="1.55"/><circle cx="259.3" cy="328.9" r="1.55"/><circle cx="237.1" cy="331.6" r="1.55"/><circle cx="241.4" cy="332.1" r="1.55"/><circle cx="243.9" cy="331.4" r="1.55"/><circle cx="245.7" cy="331.4" r="1.55"/><circle cx="247.6" cy="332.1" r="1.55"/><circle cx="250.1" cy="331.8" r="1.55"/><circle cx="233.9" cy="336.4" r="1.55"/><circle cx="237.2" cy="336.4" r="1.55"/><circle cx="240.5" cy="337.0" r="1.55"/><circle cx="244.3" cy="336.6" r="1.55"/><circle cx="246.8" cy="336.6" r="1.55"/><circle cx="249.9" cy="336.6" r="1.55"/><circle cx="233.0" cy="341.0" r="1.55"/><circle cx="234.9" cy="341.2" r="1.55"/><circle cx="236.9" cy="341.0" r="1.55"/><circle cx="238.9" cy="340.5" r="1.55"/><circle cx="241.7" cy="341.2" r="1.55"/><circle cx="243.6" cy="340.7" r="1.55"/><circle cx="245.5" cy="341.4" r="1.55"/><circle cx="248.2" cy="341.1" r="1.55"/><circle cx="250.3" cy="340.9" r="1.55"/><circle cx="233.0" cy="343.7" r="1.55"/><circle cx="235.4" cy="343.8" r="1.55"/><circle cx="238.2" cy="343.3" r="1.55"/><circle cx="241.4" cy="343.9" r="1.55"/><circle cx="244.1" cy="343.2" r="1.55"/><circle cx="247.3" cy="343.6" r="1.55"/><circle cx="249.7" cy="343.7" r="1.55"/><circle cx="234.0" cy="345.4" r="1.55"/><circle cx="236.4" cy="347.2" r="1.55"/><circle cx="239.9" cy="347.5" r="1.55"/><circle cx="243.1" cy="347.4" r="1.55"/><circle cx="245.8" cy="347.1" r="1.55"/><circle cx="248.7" cy="346.9" r="1.55"/><circle cx="227.8" cy="351.3" r="1.55"/><circle cx="229.8" cy="351.3" r="1.55"/><circle cx="231.7" cy="352.0" r="1.55"/><circle cx="233.6" cy="352.0" r="1.55"/><circle cx="235.5" cy="351.3" r="1.55"/><circle cx="237.7" cy="351.6" r="1.55"/><circle cx="239.7" cy="351.7" r="1.55"/><circle cx="241.5" cy="351.5" r="1.55"/><circle cx="244.6" cy="351.6" r="1.55"/><circle cx="249.6" cy="351.3" r="1.55"/><circle cx="216.5" cy="354.1" r="1.55"/><circle cx="223.1" cy="353.9" r="1.55"/><circle cx="225.6" cy="354.4" r="1.55"/><circle cx="228.8" cy="354.5" r="1.55"/><circle cx="231.6" cy="354.0" r="1.55"/><circle cx="235.5" cy="355.0" r="1.55"/><circle cx="238.5" cy="355.3" r="1.55"/><circle cx="241.2" cy="355.7" r="1.55"/><circle cx="244.0" cy="355.6" r="1.55"/><circle cx="239.2" cy="357.3" r="1.55"/><circle cx="242.6" cy="357.0" r="1.55"/><circle cx="245.4" cy="357.4" r="1.55"/><circle cx="249.2" cy="357.2" r="1.55"/><circle cx="231.2" cy="359.1" r="1.55"/><circle cx="233.8" cy="358.7" r="1.55"/><circle cx="236.3" cy="359.2" r="1.55"/><circle cx="226.4" cy="361.3" r="1.55"/><circle cx="228.4" cy="361.1" r="1.55"/><circle cx="230.5" cy="360.8" r="1.55"/><circle cx="232.5" cy="361.2" r="1.55"/><circle cx="217.6" cy="363.4" r="1.55"/><circle cx="221.0" cy="363.3" r="1.55"/><circle cx="224.1" cy="363.4" r="1.55"/><circle cx="226.2" cy="363.5" r="1.55"/><circle cx="228.5" cy="363.6" r="1.55"/><circle cx="230.2" cy="362.8" r="1.55"/><circle cx="232.6" cy="363.1" r="1.55"/><circle cx="234.8" cy="363.1" r="1.55"/><circle cx="222.8" cy="365.1" r="1.55"/><circle cx="225.2" cy="365.1" r="1.55"/><circle cx="227.2" cy="365.9" r="1.55"/><circle cx="231.4" cy="364.9" r="1.55"/><circle cx="233.5" cy="365.3" r="1.55"/><circle cx="213.8" cy="366.8" r="1.55"/><circle cx="216.4" cy="366.8" r="1.55"/><circle cx="218.3" cy="367.3" r="1.55"/><circle cx="220.3" cy="367.6" r="1.55"/><circle cx="224.7" cy="367.6" r="1.55"/><circle cx="228.9" cy="366.8" r="1.55"/><circle cx="230.8" cy="367.2" r="1.55"/><circle cx="232.8" cy="367.3" r="1.55"/><circle cx="235.4" cy="367.2" r="1.55"/><circle cx="237.3" cy="366.9" r="1.55"/><circle cx="239.0" cy="367.2" r="1.55"/><circle cx="241.3" cy="367.4" r="1.55"/><circle cx="201.5" cy="368.5" r="1.55"/><circle cx="205.0" cy="368.5" r="1.55"/><circle cx="207.4" cy="368.8" r="1.55"/><circle cx="209.3" cy="368.9" r="1.55"/><circle cx="211.6" cy="368.9" r="1.55"/><circle cx="214.2" cy="368.9" r="1.55"/><circle cx="222.6" cy="368.9" r="1.55"/><circle cx="252.0" cy="332.0" r="1.55"/><circle cx="254.2" cy="331.2" r="1.55"/><circle cx="256.7" cy="331.4" r="1.55"/><circle cx="258.7" cy="331.2" r="1.55"/><circle cx="260.9" cy="331.9" r="1.55"/><circle cx="263.0" cy="331.5" r="1.55"/><circle cx="250.2" cy="334.8" r="1.55"/><circle cx="253.8" cy="335.1" r="1.55"/><circle cx="256.9" cy="334.8" r="1.55"/><circle cx="259.6" cy="334.8" r="1.55"/><circle cx="263.3" cy="334.8" r="1.55"/><circle cx="265.9" cy="334.8" r="1.55"/><circle cx="269.1" cy="334.8" r="1.55"/><circle cx="252.1" cy="342.9" r="1.55"/><circle cx="255.7" cy="342.9" r="1.55"/><circle cx="252.8" cy="351.6" r="1.55"/></g>
<line class="dl" x1="198.0" y1="384.6" x2="305.0" y2="278.0"/>
<rect class="fr" x="198.0" y="278.0" width="107.0" height="106.6"/>
<path class="tk" d="M209.5 385.6V389.0M197.0 373.4H193.6M224.7 385.6V389.0M197.0 358.1H193.6M239.9 385.6V389.0M197.0 342.9H193.6M255.2 385.6V389.0M197.0 327.7H193.6M270.4 385.6V389.0M197.0 312.5H193.6M285.6 385.6V389.0M197.0 297.3H193.6M300.8 385.6V389.0M197.0 282.1H193.6"/>
<text class="tl" x="209.5" y="398.9" text-anchor="middle">14</text>
<text class="tl" transform="translate(190.0,372.9) rotate(-90) scale(0.9,1)" text-anchor="middle">14</text>
<text class="tl" x="239.9" y="398.9" text-anchor="middle">18</text>
<text class="tl" transform="translate(190.0,342.4) rotate(-90) scale(0.9,1)" text-anchor="middle">18</text>
<text class="tl" x="270.4" y="398.9" text-anchor="middle">22</text>
<text class="tl" transform="translate(190.0,312.0) rotate(-90) scale(0.9,1)" text-anchor="middle">22</text>
<text class="tl" x="300.8" y="398.9" text-anchor="middle">26</text>
<text class="tl" transform="translate(190.0,281.6) rotate(-90) scale(0.9,1)" text-anchor="middle">26</text>
<text class="r2" transform="translate(205.90,292.71) scale(0.95,1.12)">R<tspan dy="-2.8" font-size="4.4px">2</tspan><tspan dy="2.8">=0.79</tspan></text>
<text class="pl" text-anchor="end" transform="translate(296.50,379.90) scale(0.97,1.08)">C2</text>
<path class="bl" d="M398.5 319.8H402.0M396.0 325.4H402.0M391.0 329.1H402.0M429.4 288.8H433.1M417.5 295.4H435.0M412.5 299.8H430.0M430.0 302.5H440.0M413.8 305.4H422.5M417.5 311.0H428.8M403.8 316.0H425.0M402.0 319.8H415.0M402.0 322.2H413.8M402.0 324.8H410.0M402.0 329.1H426.2M398.5 331.6H402.0M383.5 341.0H398.5M383.5 342.9H402.0M386.0 351.6H391.0M384.8 354.1H389.8M376.0 361.2H381.0M368.5 363.8H382.2M368.5 365.4H377.2M364.8 367.2H389.8M402.0 331.6H425.0M402.0 342.9H405.0"/>
<g class="pt"><circle cx="402.9" cy="314.8" r="1.55"/><circle cx="398.6" cy="319.6" r="1.55"/><circle cx="400.6" cy="319.5" r="1.55"/><circle cx="395.8" cy="325.3" r="1.55"/><circle cx="398.1" cy="325.5" r="1.55"/><circle cx="399.9" cy="325.1" r="1.55"/><circle cx="401.8" cy="325.5" r="1.55"/><circle cx="391.1" cy="329.5" r="1.55"/><circle cx="393.2" cy="329.0" r="1.55"/><circle cx="395.6" cy="329.3" r="1.55"/><circle cx="397.8" cy="328.7" r="1.55"/><circle cx="400.0" cy="329.0" r="1.55"/><circle cx="402.1" cy="328.7" r="1.55"/><circle cx="424.4" cy="288.8" r="1.55"/><circle cx="429.0" cy="288.3" r="1.55"/><circle cx="431.0" cy="288.3" r="1.55"/><circle cx="433.4" cy="288.8" r="1.55"/><circle cx="417.2" cy="295.9" r="1.55"/><circle cx="419.6" cy="295.6" r="1.55"/><circle cx="422.0" cy="295.2" r="1.55"/><circle cx="424.3" cy="295.8" r="1.55"/><circle cx="426.2" cy="295.2" r="1.55"/><circle cx="428.4" cy="295.7" r="1.55"/><circle cx="430.6" cy="295.0" r="1.55"/><circle cx="432.5" cy="295.5" r="1.55"/><circle cx="434.8" cy="295.6" r="1.55"/><circle cx="436.2" cy="296.6" r="1.55"/><circle cx="431.3" cy="297.3" r="1.55"/><circle cx="434.1" cy="297.6" r="1.55"/><circle cx="412.5" cy="299.6" r="1.55"/><circle cx="414.9" cy="299.9" r="1.55"/><circle cx="417.0" cy="300.0" r="1.55"/><circle cx="419.0" cy="299.3" r="1.55"/><circle cx="421.0" cy="300.2" r="1.55"/><circle cx="423.5" cy="299.3" r="1.55"/><circle cx="425.4" cy="299.4" r="1.55"/><circle cx="427.6" cy="299.9" r="1.55"/><circle cx="430.3" cy="299.8" r="1.55"/><circle cx="412.5" cy="302.8" r="1.55"/><circle cx="415.2" cy="302.8" r="1.55"/><circle cx="418.6" cy="302.3" r="1.55"/><circle cx="421.7" cy="302.2" r="1.55"/><circle cx="424.6" cy="302.5" r="1.55"/><circle cx="427.2" cy="302.8" r="1.55"/><circle cx="429.8" cy="302.4" r="1.55"/><circle cx="432.1" cy="302.3" r="1.55"/><circle cx="435.9" cy="302.8" r="1.55"/><circle cx="438.0" cy="302.9" r="1.55"/><circle cx="414.1" cy="305.9" r="1.55"/><circle cx="415.8" cy="305.0" r="1.55"/><circle cx="418.3" cy="305.3" r="1.55"/><circle cx="420.4" cy="305.0" r="1.55"/><circle cx="422.8" cy="305.3" r="1.55"/><circle cx="425.0" cy="305.4" r="1.55"/><circle cx="417.4" cy="307.2" r="1.55"/><circle cx="421.2" cy="307.0" r="1.55"/><circle cx="434.1" cy="307.3" r="1.55"/><circle cx="436.6" cy="307.3" r="1.55"/><circle cx="439.0" cy="307.4" r="1.55"/><circle cx="417.2" cy="311.2" r="1.55"/><circle cx="419.9" cy="311.2" r="1.55"/><circle cx="422.0" cy="310.5" r="1.55"/><circle cx="424.5" cy="311.5" r="1.55"/><circle cx="426.2" cy="310.5" r="1.55"/><circle cx="428.7" cy="311.2" r="1.55"/><circle cx="422.5" cy="313.8" r="1.55"/><circle cx="425.7" cy="313.6" r="1.55"/><circle cx="428.4" cy="313.6" r="1.55"/><circle cx="431.2" cy="313.3" r="1.55"/><circle cx="406.1" cy="316.0" r="1.55"/><circle cx="408.2" cy="316.3" r="1.55"/><circle cx="410.4" cy="316.3" r="1.55"/><circle cx="414.6" cy="316.1" r="1.55"/><circle cx="418.8" cy="315.9" r="1.55"/><circle cx="420.6" cy="316.3" r="1.55"/><circle cx="423.0" cy="315.9" r="1.55"/><circle cx="425.3" cy="316.5" r="1.55"/><circle cx="430.0" cy="314.8" r="1.55"/><circle cx="402.1" cy="318.1" r="1.55"/><circle cx="404.9" cy="317.7" r="1.55"/><circle cx="408.0" cy="318.0" r="1.55"/><circle cx="413.8" cy="318.0" r="1.55"/><circle cx="416.6" cy="318.1" r="1.55"/><circle cx="419.2" cy="318.1" r="1.55"/><circle cx="422.4" cy="318.3" r="1.55"/><circle cx="403.9" cy="319.6" r="1.55"/><circle cx="406.4" cy="320.2" r="1.55"/><circle cx="408.2" cy="320.2" r="1.55"/><circle cx="410.7" cy="320.1" r="1.55"/><circle cx="415.1" cy="320.0" r="1.55"/><circle cx="401.9" cy="322.7" r="1.55"/><circle cx="404.2" cy="321.8" r="1.55"/><circle cx="406.2" cy="322.1" r="1.55"/><circle cx="410.1" cy="322.3" r="1.55"/><circle cx="414.0" cy="322.2" r="1.55"/><circle cx="404.2" cy="324.5" r="1.55"/><circle cx="406.0" cy="324.7" r="1.55"/><circle cx="407.8" cy="324.5" r="1.55"/><circle cx="409.7" cy="324.4" r="1.55"/><circle cx="404.9" cy="327.1" r="1.55"/><circle cx="407.9" cy="326.9" r="1.55"/><circle cx="410.3" cy="327.6" r="1.55"/><circle cx="413.3" cy="327.0" r="1.55"/><circle cx="416.2" cy="326.9" r="1.55"/><circle cx="418.6" cy="327.0" r="1.55"/><circle cx="404.3" cy="329.1" r="1.55"/><circle cx="406.3" cy="329.6" r="1.55"/><circle cx="412.1" cy="329.3" r="1.55"/><circle cx="414.1" cy="329.5" r="1.55"/><circle cx="415.8" cy="328.9" r="1.55"/><circle cx="417.9" cy="328.9" r="1.55"/><circle cx="420.5" cy="328.7" r="1.55"/><circle cx="424.4" cy="328.8" r="1.55"/><circle cx="426.4" cy="329.1" r="1.55"/><circle cx="398.8" cy="331.2" r="1.55"/><circle cx="402.0" cy="331.6" r="1.55"/><circle cx="395.0" cy="336.9" r="1.55"/><circle cx="398.6" cy="336.5" r="1.55"/><circle cx="401.9" cy="336.5" r="1.55"/><circle cx="383.8" cy="340.6" r="1.55"/><circle cx="388.1" cy="341.5" r="1.55"/><circle cx="390.0" cy="341.4" r="1.55"/><circle cx="392.0" cy="341.0" r="1.55"/><circle cx="394.4" cy="340.7" r="1.55"/><circle cx="396.5" cy="340.9" r="1.55"/><circle cx="383.7" cy="343.2" r="1.55"/><circle cx="385.7" cy="343.1" r="1.55"/><circle cx="391.6" cy="343.3" r="1.55"/><circle cx="393.9" cy="342.5" r="1.55"/><circle cx="398.0" cy="343.1" r="1.55"/><circle cx="399.9" cy="343.0" r="1.55"/><circle cx="402.1" cy="342.7" r="1.55"/><circle cx="389.5" cy="344.5" r="1.55"/><circle cx="393.6" cy="344.7" r="1.55"/><circle cx="382.5" cy="347.6" r="1.55"/><circle cx="385.2" cy="347.5" r="1.55"/><circle cx="388.6" cy="347.3" r="1.55"/><circle cx="392.0" cy="347.0" r="1.55"/><circle cx="394.7" cy="347.2" r="1.55"/><circle cx="397.7" cy="347.3" r="1.55"/><circle cx="401.2" cy="347.2" r="1.55"/><circle cx="385.7" cy="351.4" r="1.55"/><circle cx="388.7" cy="351.6" r="1.55"/><circle cx="390.7" cy="351.4" r="1.55"/><circle cx="393.5" cy="351.6" r="1.55"/><circle cx="395.9" cy="351.6" r="1.55"/><circle cx="398.3" cy="351.6" r="1.55"/><circle cx="369.1" cy="354.1" r="1.55"/><circle cx="373.4" cy="354.1" r="1.55"/><circle cx="377.1" cy="354.2" r="1.55"/><circle cx="380.1" cy="354.4" r="1.55"/><circle cx="383.5" cy="354.7" r="1.55"/><circle cx="387.0" cy="353.7" r="1.55"/><circle cx="389.9" cy="354.0" r="1.55"/><circle cx="388.7" cy="357.2" r="1.55"/><circle cx="391.3" cy="356.9" r="1.55"/><circle cx="394.4" cy="357.3" r="1.55"/><circle cx="397.8" cy="357.1" r="1.55"/><circle cx="400.9" cy="357.2" r="1.55"/><circle cx="377.5" cy="359.8" r="1.55"/><circle cx="380.8" cy="359.7" r="1.55"/><circle cx="383.7" cy="359.4" r="1.55"/><circle cx="387.5" cy="359.3" r="1.55"/><circle cx="380.8" cy="361.7" r="1.55"/><circle cx="357.6" cy="363.8" r="1.55"/><circle cx="360.5" cy="363.3" r="1.55"/><circle cx="363.3" cy="363.1" r="1.55"/><circle cx="368.4" cy="363.7" r="1.55"/><circle cx="370.3" cy="363.3" r="1.55"/><circle cx="372.7" cy="364.1" r="1.55"/><circle cx="374.5" cy="363.4" r="1.55"/><circle cx="378.1" cy="363.5" r="1.55"/><circle cx="380.1" cy="364.0" r="1.55"/><circle cx="382.4" cy="363.5" r="1.55"/><circle cx="368.8" cy="365.5" r="1.55"/><circle cx="370.9" cy="365.5" r="1.55"/><circle cx="377.6" cy="365.2" r="1.55"/><circle cx="364.4" cy="366.9" r="1.55"/><circle cx="366.8" cy="367.5" r="1.55"/><circle cx="372.9" cy="367.6" r="1.55"/><circle cx="375.1" cy="367.2" r="1.55"/><circle cx="377.0" cy="367.3" r="1.55"/><circle cx="379.5" cy="367.6" r="1.55"/><circle cx="383.7" cy="367.6" r="1.55"/><circle cx="388.0" cy="367.1" r="1.55"/><circle cx="389.7" cy="367.5" r="1.55"/><circle cx="370.7" cy="368.4" r="1.55"/><circle cx="376.1" cy="368.9" r="1.55"/><circle cx="404.0" cy="331.9" r="1.55"/><circle cx="406.4" cy="331.6" r="1.55"/><circle cx="408.4" cy="331.6" r="1.55"/><circle cx="410.3" cy="331.7" r="1.55"/><circle cx="412.5" cy="331.6" r="1.55"/><circle cx="414.5" cy="332.0" r="1.55"/><circle cx="416.5" cy="331.8" r="1.55"/><circle cx="418.5" cy="332.1" r="1.55"/><circle cx="420.5" cy="331.9" r="1.55"/><circle cx="422.7" cy="331.8" r="1.55"/><circle cx="424.7" cy="331.5" r="1.55"/><circle cx="405.2" cy="335.0" r="1.55"/><circle cx="408.2" cy="335.3" r="1.55"/><circle cx="411.5" cy="335.3" r="1.55"/><circle cx="415.5" cy="335.4" r="1.55"/><circle cx="417.9" cy="335.2" r="1.55"/><circle cx="420.6" cy="335.1" r="1.55"/><circle cx="423.5" cy="335.1" r="1.55"/><circle cx="426.0" cy="335.1" r="1.55"/><circle cx="404.8" cy="342.4" r="1.55"/></g>
<line class="dl" x1="351.0" y1="384.6" x2="458.0" y2="278.0"/>
<rect class="fr" x="351.0" y="278.0" width="107.0" height="106.6"/>
<path class="tk" d="M362.3 385.6V389.0M350.0 373.4H346.6M377.6 385.6V389.0M350.0 358.1H346.6M392.8 385.6V389.0M350.0 342.9H346.6M408.1 385.6V389.0M350.0 327.7H346.6M423.4 385.6V389.0M350.0 312.5H346.6M438.6 385.6V389.0M350.0 297.3H346.6M453.9 385.6V389.0M350.0 282.1H346.6"/>
<text class="tl" x="362.3" y="398.9" text-anchor="middle">14</text>
<text class="tl" transform="translate(343.0,372.9) rotate(-90) scale(0.9,1)" text-anchor="middle">14</text>
<text class="tl" x="392.8" y="398.9" text-anchor="middle">18</text>
<text class="tl" transform="translate(343.0,342.4) rotate(-90) scale(0.9,1)" text-anchor="middle">18</text>
<text class="tl" x="423.4" y="398.9" text-anchor="middle">22</text>
<text class="tl" transform="translate(343.0,312.0) rotate(-90) scale(0.9,1)" text-anchor="middle">22</text>
<text class="tl" x="453.9" y="398.9" text-anchor="middle">26</text>
<text class="tl" transform="translate(343.0,281.6) rotate(-90) scale(0.9,1)" text-anchor="middle">26</text>
<text class="r2" transform="translate(358.90,292.71) scale(0.95,1.12)">R<tspan dy="-2.8" font-size="4.4px">2</tspan><tspan dy="2.8">=0.84</tspan></text>
<text class="pl" text-anchor="end" transform="translate(451.30,379.90) scale(0.97,1.08)">C3</text>
<text class="hd" transform="translate(12.2,462.4) rotate(-90)" text-anchor="middle">MSC</text>
<text class="ax" transform="translate(26.3,462.4) rotate(-90)" text-anchor="middle">Measured&#160;&#160;SOC (g kg<tspan dy="-3.2" font-size="5.9px">&#8722;1</tspan><tspan dy="3.2">)</tspan></text>
<path class="bl" d="M94.8 448.8H97.0M93.5 453.8H97.0M93.5 456.2H97.0M84.8 458.5H97.0M115.6 424.4H128.8M107.5 431.2H120.0M102.5 435.6H126.2M100.0 442.5H122.5M97.0 445.0H116.2M97.0 448.8H111.2M97.0 450.6H110.0M97.0 452.5H108.8M97.0 454.4H102.5M97.0 458.1H107.5M84.8 460.6H97.0M83.5 469.4H93.5M96.0 471.2H97.0M81.0 473.1H97.0M71.0 483.5H87.2M65.4 492.5H67.2M71.0 492.8H78.5M69.8 494.4H82.2M64.8 496.2H87.2M61.0 497.8H73.5M97.0 461.2H105.0M97.0 463.1H110.0M97.0 471.5H102.5"/>
<g class="pt"><circle cx="96.0" cy="445.4" r="1.55"/><circle cx="94.7" cy="449.2" r="1.55"/><circle cx="97.2" cy="448.7" r="1.55"/><circle cx="93.4" cy="453.3" r="1.55"/><circle cx="95.2" cy="453.5" r="1.55"/><circle cx="96.9" cy="454.1" r="1.55"/><circle cx="93.6" cy="456.7" r="1.55"/><circle cx="95.4" cy="456.6" r="1.55"/><circle cx="76.2" cy="458.3" r="1.55"/><circle cx="79.3" cy="458.1" r="1.55"/><circle cx="82.0" cy="458.1" r="1.55"/><circle cx="84.8" cy="458.8" r="1.55"/><circle cx="86.7" cy="458.9" r="1.55"/><circle cx="89.1" cy="458.7" r="1.55"/><circle cx="91.0" cy="459.0" r="1.55"/><circle cx="94.9" cy="458.4" r="1.55"/><circle cx="97.1" cy="458.4" r="1.55"/><circle cx="119.3" cy="417.4" r="1.55"/><circle cx="122.0" cy="417.7" r="1.55"/><circle cx="125.2" cy="417.5" r="1.55"/><circle cx="127.9" cy="417.4" r="1.55"/><circle cx="131.0" cy="417.7" r="1.55"/><circle cx="115.4" cy="424.3" r="1.55"/><circle cx="118.0" cy="424.0" r="1.55"/><circle cx="120.1" cy="424.6" r="1.55"/><circle cx="122.5" cy="424.9" r="1.55"/><circle cx="124.2" cy="423.9" r="1.55"/><circle cx="126.7" cy="424.4" r="1.55"/><circle cx="129.0" cy="424.5" r="1.55"/><circle cx="106.6" cy="428.7" r="1.55"/><circle cx="109.4" cy="429.0" r="1.55"/><circle cx="112.3" cy="428.6" r="1.55"/><circle cx="115.2" cy="428.7" r="1.55"/><circle cx="122.8" cy="429.0" r="1.55"/><circle cx="125.8" cy="429.0" r="1.55"/><circle cx="129.0" cy="429.0" r="1.55"/><circle cx="107.8" cy="431.1" r="1.55"/><circle cx="111.9" cy="431.4" r="1.55"/><circle cx="116.1" cy="431.7" r="1.55"/><circle cx="118.3" cy="431.1" r="1.55"/><circle cx="107.3" cy="432.9" r="1.55"/><circle cx="110.5" cy="432.7" r="1.55"/><circle cx="113.6" cy="433.2" r="1.55"/><circle cx="119.2" cy="433.5" r="1.55"/><circle cx="121.8" cy="432.8" r="1.55"/><circle cx="124.8" cy="432.9" r="1.55"/><circle cx="102.3" cy="435.2" r="1.55"/><circle cx="104.4" cy="435.6" r="1.55"/><circle cx="106.7" cy="435.6" r="1.55"/><circle cx="109.0" cy="435.8" r="1.55"/><circle cx="111.2" cy="436.1" r="1.55"/><circle cx="113.6" cy="436.0" r="1.55"/><circle cx="115.5" cy="435.4" r="1.55"/><circle cx="117.6" cy="435.6" r="1.55"/><circle cx="119.8" cy="436.1" r="1.55"/><circle cx="122.1" cy="436.1" r="1.55"/><circle cx="123.8" cy="435.8" r="1.55"/><circle cx="126.1" cy="435.1" r="1.55"/><circle cx="104.7" cy="439.3" r="1.55"/><circle cx="107.8" cy="439.2" r="1.55"/><circle cx="110.7" cy="439.0" r="1.55"/><circle cx="113.8" cy="439.6" r="1.55"/><circle cx="117.0" cy="439.6" r="1.55"/><circle cx="120.3" cy="439.4" r="1.55"/><circle cx="100.1" cy="442.2" r="1.55"/><circle cx="101.9" cy="442.7" r="1.55"/><circle cx="104.3" cy="442.1" r="1.55"/><circle cx="108.1" cy="442.6" r="1.55"/><circle cx="110.5" cy="442.2" r="1.55"/><circle cx="114.2" cy="442.4" r="1.55"/><circle cx="116.1" cy="442.8" r="1.55"/><circle cx="118.3" cy="442.2" r="1.55"/><circle cx="120.3" cy="442.9" r="1.55"/><circle cx="122.6" cy="442.8" r="1.55"/><circle cx="99.1" cy="445.0" r="1.55"/><circle cx="101.0" cy="444.7" r="1.55"/><circle cx="103.1" cy="444.6" r="1.55"/><circle cx="105.3" cy="444.7" r="1.55"/><circle cx="107.6" cy="445.1" r="1.55"/><circle cx="110.2" cy="445.1" r="1.55"/><circle cx="112.0" cy="444.9" r="1.55"/><circle cx="113.8" cy="445.2" r="1.55"/><circle cx="116.2" cy="445.2" r="1.55"/><circle cx="126.2" cy="445.9" r="1.55"/><circle cx="99.6" cy="446.7" r="1.55"/><circle cx="103.1" cy="446.6" r="1.55"/><circle cx="105.7" cy="447.2" r="1.55"/><circle cx="108.4" cy="446.7" r="1.55"/><circle cx="111.1" cy="446.6" r="1.55"/><circle cx="114.5" cy="446.9" r="1.55"/><circle cx="120.1" cy="446.6" r="1.55"/><circle cx="99.2" cy="449.1" r="1.55"/><circle cx="100.9" cy="448.4" r="1.55"/><circle cx="102.8" cy="448.6" r="1.55"/><circle cx="106.9" cy="448.7" r="1.55"/><circle cx="109.2" cy="448.4" r="1.55"/><circle cx="111.5" cy="448.3" r="1.55"/><circle cx="96.9" cy="450.5" r="1.55"/><circle cx="101.3" cy="450.7" r="1.55"/><circle cx="103.7" cy="450.2" r="1.55"/><circle cx="106.0" cy="450.6" r="1.55"/><circle cx="108.0" cy="450.3" r="1.55"/><circle cx="110.0" cy="450.9" r="1.55"/><circle cx="99.2" cy="452.5" r="1.55"/><circle cx="103.2" cy="452.3" r="1.55"/><circle cx="105.2" cy="452.7" r="1.55"/><circle cx="108.6" cy="452.4" r="1.55"/><circle cx="101.0" cy="454.0" r="1.55"/><circle cx="102.8" cy="454.8" r="1.55"/><circle cx="100.2" cy="456.2" r="1.55"/><circle cx="106.5" cy="456.2" r="1.55"/><circle cx="126.9" cy="456.2" r="1.55"/><circle cx="99.4" cy="457.9" r="1.55"/><circle cx="101.1" cy="458.4" r="1.55"/><circle cx="103.4" cy="458.0" r="1.55"/><circle cx="84.6" cy="461.1" r="1.55"/><circle cx="87.1" cy="460.9" r="1.55"/><circle cx="93.1" cy="460.5" r="1.55"/><circle cx="95.1" cy="461.0" r="1.55"/><circle cx="96.9" cy="460.9" r="1.55"/><circle cx="90.7" cy="463.5" r="1.55"/><circle cx="94.0" cy="463.0" r="1.55"/><circle cx="97.3" cy="462.8" r="1.55"/><circle cx="82.3" cy="466.0" r="1.55"/><circle cx="85.1" cy="465.4" r="1.55"/><circle cx="88.1" cy="465.8" r="1.55"/><circle cx="90.9" cy="466.0" r="1.55"/><circle cx="94.3" cy="465.9" r="1.55"/><circle cx="97.0" cy="465.6" r="1.55"/><circle cx="83.3" cy="469.2" r="1.55"/><circle cx="85.5" cy="469.2" r="1.55"/><circle cx="87.5" cy="468.9" r="1.55"/><circle cx="89.7" cy="469.6" r="1.55"/><circle cx="91.7" cy="469.0" r="1.55"/><circle cx="96.0" cy="471.3" r="1.55"/><circle cx="81.3" cy="473.0" r="1.55"/><circle cx="83.2" cy="472.7" r="1.55"/><circle cx="85.1" cy="473.0" r="1.55"/><circle cx="86.9" cy="473.3" r="1.55"/><circle cx="89.2" cy="473.6" r="1.55"/><circle cx="93.0" cy="472.7" r="1.55"/><circle cx="95.0" cy="473.4" r="1.55"/><circle cx="97.3" cy="472.8" r="1.55"/><circle cx="86.0" cy="476.2" r="1.55"/><circle cx="89.1" cy="475.8" r="1.55"/><circle cx="92.6" cy="476.1" r="1.55"/><circle cx="96.2" cy="475.8" r="1.55"/><circle cx="73.6" cy="481.0" r="1.55"/><circle cx="76.7" cy="480.9" r="1.55"/><circle cx="79.3" cy="480.8" r="1.55"/><circle cx="82.2" cy="480.6" r="1.55"/><circle cx="85.1" cy="481.0" r="1.55"/><circle cx="88.3" cy="480.7" r="1.55"/><circle cx="90.7" cy="480.5" r="1.55"/><circle cx="71.3" cy="483.1" r="1.55"/><circle cx="73.3" cy="483.4" r="1.55"/><circle cx="77.3" cy="483.0" r="1.55"/><circle cx="79.1" cy="483.7" r="1.55"/><circle cx="81.1" cy="483.3" r="1.55"/><circle cx="83.3" cy="483.5" r="1.55"/><circle cx="87.5" cy="483.5" r="1.55"/><circle cx="87.5" cy="485.7" r="1.55"/><circle cx="89.4" cy="486.0" r="1.55"/><circle cx="92.4" cy="485.9" r="1.55"/><circle cx="96.8" cy="485.9" r="1.55"/><circle cx="74.4" cy="488.7" r="1.55"/><circle cx="77.5" cy="488.2" r="1.55"/><circle cx="80.5" cy="488.5" r="1.55"/><circle cx="83.4" cy="488.6" r="1.55"/><circle cx="86.0" cy="488.4" r="1.55"/><circle cx="77.6" cy="490.4" r="1.55"/><circle cx="80.7" cy="490.4" r="1.55"/><circle cx="84.9" cy="489.8" r="1.55"/><circle cx="65.6" cy="492.6" r="1.55"/><circle cx="67.3" cy="492.9" r="1.55"/><circle cx="70.9" cy="493.1" r="1.55"/><circle cx="72.9" cy="492.6" r="1.55"/><circle cx="75.1" cy="492.3" r="1.55"/><circle cx="76.7" cy="493.1" r="1.55"/><circle cx="71.7" cy="494.6" r="1.55"/><circle cx="73.7" cy="494.4" r="1.55"/><circle cx="77.9" cy="494.4" r="1.55"/><circle cx="79.8" cy="494.5" r="1.55"/><circle cx="82.3" cy="494.0" r="1.55"/><circle cx="88.4" cy="495.2" r="1.55"/><circle cx="91.6" cy="495.6" r="1.55"/><circle cx="94.2" cy="495.5" r="1.55"/><circle cx="96.9" cy="495.6" r="1.55"/><circle cx="65.1" cy="496.7" r="1.55"/><circle cx="66.9" cy="495.8" r="1.55"/><circle cx="68.6" cy="496.0" r="1.55"/><circle cx="72.9" cy="496.5" r="1.55"/><circle cx="74.7" cy="495.8" r="1.55"/><circle cx="76.8" cy="496.4" r="1.55"/><circle cx="78.9" cy="496.7" r="1.55"/><circle cx="81.1" cy="496.3" r="1.55"/><circle cx="83.2" cy="495.8" r="1.55"/><circle cx="85.3" cy="496.3" r="1.55"/><circle cx="61.3" cy="497.7" r="1.55"/><circle cx="63.3" cy="497.3" r="1.55"/><circle cx="99.1" cy="461.2" r="1.55"/><circle cx="100.9" cy="460.9" r="1.55"/><circle cx="103.2" cy="461.6" r="1.55"/><circle cx="99.1" cy="463.6" r="1.55"/><circle cx="101.5" cy="462.8" r="1.55"/><circle cx="103.8" cy="463.6" r="1.55"/><circle cx="106.0" cy="463.1" r="1.55"/><circle cx="107.9" cy="463.5" r="1.55"/><circle cx="109.8" cy="463.6" r="1.55"/><circle cx="98.7" cy="471.7" r="1.55"/><circle cx="100.8" cy="471.2" r="1.55"/><circle cx="100.2" cy="485.8" r="1.55"/><circle cx="99.7" cy="495.6" r="1.55"/></g>
<line class="dl" x1="45.0" y1="513.5" x2="152.0" y2="406.9"/>
<rect class="fr" x="45.0" y="406.9" width="107.0" height="106.6"/>
<path class="tk" d="M57.0 514.5V517.9M44.0 502.3H40.6M72.2 514.5V517.9M44.0 487.1H40.6M87.3 514.5V517.9M44.0 471.9H40.6M102.5 514.5V517.9M44.0 456.6H40.6M117.7 514.5V517.9M44.0 441.4H40.6M132.8 514.5V517.9M44.0 426.2H40.6M148.0 514.5V517.9M44.0 411.0H40.6"/>
<text class="tl" x="57.0" y="527.8" text-anchor="middle">14</text>
<text class="tl" transform="translate(37.0,501.8) rotate(-90) scale(0.9,1)" text-anchor="middle">14</text>
<text class="tl" x="87.3" y="527.8" text-anchor="middle">18</text>
<text class="tl" transform="translate(37.0,471.4) rotate(-90) scale(0.9,1)" text-anchor="middle">18</text>
<text class="tl" x="117.7" y="527.8" text-anchor="middle">22</text>
<text class="tl" transform="translate(37.0,440.9) rotate(-90) scale(0.9,1)" text-anchor="middle">22</text>
<text class="tl" x="148.0" y="527.8" text-anchor="middle">26</text>
<text class="tl" transform="translate(37.0,410.5) rotate(-90) scale(0.9,1)" text-anchor="middle">26</text>
<text class="r2" transform="translate(52.90,421.64) scale(0.95,1.12)">R<tspan dy="-2.8" font-size="4.4px">2</tspan><tspan dy="2.8">=0.81</tspan></text>
<text class="pl" text-anchor="end" transform="translate(150.70,507.90) scale(0.97,1.08)">D1</text>
<text class="ax" x="101.0" y="541.5" text-anchor="middle">Predicted SOC (g kg<tspan dy="-3.2" font-size="5.9px">&#8722;1</tspan><tspan dy="3.2">)</tspan></text>
<path class="bl" d="M249.0 448.8H250.0M241.5 453.1H250.0M241.5 459.4H250.0M278.6 417.8H278.6M265.5 424.4H278.0M264.2 430.0H274.2M263.0 431.9H279.2M253.0 435.0H258.0M261.8 435.0H280.5M260.5 440.0H278.0M255.5 444.4H270.5M250.0 446.2H264.2M276.8 446.2H284.2M250.0 448.1H263.0M250.0 450.0H261.8M250.0 451.9H266.8M250.0 454.4H258.0M250.0 458.1H255.5M240.2 460.6H250.0M244.0 463.1H250.0M232.8 465.6H250.0M230.2 469.4H250.0M234.0 473.1H250.0M235.2 480.6H244.0M219.0 483.1H225.2M234.0 483.1H239.0M240.2 486.0H249.0M225.2 490.0H234.0M219.0 492.2H226.5M219.0 494.0H225.2M216.5 495.6H227.8M217.8 497.5H227.8M250.0 460.6H264.2M250.0 463.8H254.2M250.0 471.9H253.0"/>
<g class="pt"><circle cx="250.9" cy="436.2" r="1.55"/><circle cx="240.4" cy="444.4" r="1.55"/><circle cx="243.3" cy="444.4" r="1.55"/><circle cx="247.0" cy="444.4" r="1.55"/><circle cx="249.9" cy="444.4" r="1.55"/><circle cx="241.7" cy="448.7" r="1.55"/><circle cx="244.6" cy="448.5" r="1.55"/><circle cx="247.8" cy="448.8" r="1.55"/><circle cx="241.3" cy="453.2" r="1.55"/><circle cx="243.6" cy="453.2" r="1.55"/><circle cx="245.9" cy="453.6" r="1.55"/><circle cx="247.9" cy="453.2" r="1.55"/><circle cx="249.7" cy="452.8" r="1.55"/><circle cx="240.2" cy="455.7" r="1.55"/><circle cx="243.3" cy="455.6" r="1.55"/><circle cx="246.9" cy="455.8" r="1.55"/><circle cx="250.2" cy="455.7" r="1.55"/><circle cx="229.2" cy="457.6" r="1.55"/><circle cx="232.5" cy="457.6" r="1.55"/><circle cx="236.6" cy="457.3" r="1.55"/><circle cx="241.7" cy="459.2" r="1.55"/><circle cx="243.9" cy="459.8" r="1.55"/><circle cx="245.7" cy="459.7" r="1.55"/><circle cx="247.7" cy="459.1" r="1.55"/><circle cx="250.2" cy="459.0" r="1.55"/><circle cx="268.1" cy="417.9" r="1.55"/><circle cx="271.1" cy="417.6" r="1.55"/><circle cx="273.9" cy="417.7" r="1.55"/><circle cx="278.6" cy="417.7" r="1.55"/><circle cx="265.5" cy="424.1" r="1.55"/><circle cx="267.4" cy="424.1" r="1.55"/><circle cx="269.4" cy="424.2" r="1.55"/><circle cx="272.0" cy="424.7" r="1.55"/><circle cx="273.9" cy="424.6" r="1.55"/><circle cx="276.0" cy="424.5" r="1.55"/><circle cx="278.0" cy="424.5" r="1.55"/><circle cx="280.4" cy="424.4" r="1.55"/><circle cx="284.1" cy="424.4" r="1.55"/><circle cx="287.8" cy="424.4" r="1.55"/><circle cx="280.5" cy="426.2" r="1.55"/><circle cx="260.4" cy="428.9" r="1.55"/><circle cx="263.1" cy="429.0" r="1.55"/><circle cx="266.5" cy="428.9" r="1.55"/><circle cx="269.4" cy="428.5" r="1.55"/><circle cx="272.1" cy="428.5" r="1.55"/><circle cx="275.1" cy="428.7" r="1.55"/><circle cx="277.9" cy="429.1" r="1.55"/><circle cx="264.2" cy="430.4" r="1.55"/><circle cx="268.2" cy="429.9" r="1.55"/><circle cx="272.3" cy="430.5" r="1.55"/><circle cx="265.2" cy="432.3" r="1.55"/><circle cx="267.2" cy="432.2" r="1.55"/><circle cx="269.3" cy="432.2" r="1.55"/><circle cx="271.1" cy="431.9" r="1.55"/><circle cx="275.5" cy="432.3" r="1.55"/><circle cx="277.5" cy="431.8" r="1.55"/><circle cx="279.4" cy="431.8" r="1.55"/><circle cx="253.2" cy="434.7" r="1.55"/><circle cx="255.2" cy="434.7" r="1.55"/><circle cx="257.8" cy="434.7" r="1.55"/><circle cx="261.7" cy="435.2" r="1.55"/><circle cx="263.9" cy="435.4" r="1.55"/><circle cx="265.7" cy="434.5" r="1.55"/><circle cx="267.9" cy="435.2" r="1.55"/><circle cx="269.9" cy="434.5" r="1.55"/><circle cx="272.0" cy="435.4" r="1.55"/><circle cx="274.1" cy="434.7" r="1.55"/><circle cx="276.2" cy="435.0" r="1.55"/><circle cx="278.6" cy="435.2" r="1.55"/><circle cx="280.8" cy="434.9" r="1.55"/><circle cx="262.8" cy="437.3" r="1.55"/><circle cx="266.0" cy="437.6" r="1.55"/><circle cx="269.5" cy="437.4" r="1.55"/><circle cx="272.9" cy="437.1" r="1.55"/><circle cx="260.4" cy="439.7" r="1.55"/><circle cx="262.4" cy="440.4" r="1.55"/><circle cx="264.7" cy="440.2" r="1.55"/><circle cx="267.0" cy="439.8" r="1.55"/><circle cx="269.6" cy="440.0" r="1.55"/><circle cx="271.7" cy="439.7" r="1.55"/><circle cx="273.7" cy="439.7" r="1.55"/><circle cx="276.0" cy="439.6" r="1.55"/><circle cx="277.8" cy="440.4" r="1.55"/><circle cx="260.5" cy="442.5" r="1.55"/><circle cx="263.7" cy="442.9" r="1.55"/><circle cx="267.5" cy="442.5" r="1.55"/><circle cx="270.5" cy="442.2" r="1.55"/><circle cx="274.2" cy="442.5" r="1.55"/><circle cx="252.5" cy="444.4" r="1.55"/><circle cx="255.5" cy="444.4" r="1.55"/><circle cx="257.8" cy="444.7" r="1.55"/><circle cx="259.9" cy="444.1" r="1.55"/><circle cx="261.9" cy="444.2" r="1.55"/><circle cx="266.5" cy="444.8" r="1.55"/><circle cx="268.7" cy="444.0" r="1.55"/><circle cx="250.2" cy="446.4" r="1.55"/><circle cx="253.7" cy="446.7" r="1.55"/><circle cx="256.1" cy="446.2" r="1.55"/><circle cx="262.1" cy="446.0" r="1.55"/><circle cx="264.0" cy="446.2" r="1.55"/><circle cx="276.9" cy="446.7" r="1.55"/><circle cx="278.8" cy="446.5" r="1.55"/><circle cx="282.1" cy="446.1" r="1.55"/><circle cx="284.1" cy="446.3" r="1.55"/><circle cx="252.0" cy="448.1" r="1.55"/><circle cx="254.5" cy="448.5" r="1.55"/><circle cx="259.0" cy="447.7" r="1.55"/><circle cx="260.8" cy="447.9" r="1.55"/><circle cx="262.7" cy="448.3" r="1.55"/><circle cx="250.0" cy="449.9" r="1.55"/><circle cx="251.8" cy="450.4" r="1.55"/><circle cx="256.1" cy="449.7" r="1.55"/><circle cx="259.9" cy="450.0" r="1.55"/><circle cx="252.4" cy="452.4" r="1.55"/><circle cx="254.2" cy="451.8" r="1.55"/><circle cx="256.4" cy="452.1" r="1.55"/><circle cx="260.5" cy="452.0" r="1.55"/><circle cx="262.3" cy="451.4" r="1.55"/><circle cx="264.7" cy="451.7" r="1.55"/><circle cx="267.0" cy="452.3" r="1.55"/><circle cx="251.8" cy="454.2" r="1.55"/><circle cx="253.9" cy="454.2" r="1.55"/><circle cx="255.7" cy="454.3" r="1.55"/><circle cx="258.0" cy="454.8" r="1.55"/><circle cx="273.0" cy="456.2" r="1.55"/><circle cx="252.2" cy="458.4" r="1.55"/><circle cx="255.4" cy="458.4" r="1.55"/><circle cx="259.1" cy="458.5" r="1.55"/><circle cx="262.5" cy="458.4" r="1.55"/><circle cx="265.7" cy="458.3" r="1.55"/><circle cx="240.3" cy="461.0" r="1.55"/><circle cx="250.2" cy="460.8" r="1.55"/><circle cx="244.3" cy="463.3" r="1.55"/><circle cx="246.1" cy="463.2" r="1.55"/><circle cx="248.2" cy="463.3" r="1.55"/><circle cx="250.3" cy="463.5" r="1.55"/><circle cx="232.9" cy="465.2" r="1.55"/><circle cx="234.6" cy="465.9" r="1.55"/><circle cx="237.3" cy="465.3" r="1.55"/><circle cx="239.5" cy="465.1" r="1.55"/><circle cx="241.3" cy="465.4" r="1.55"/><circle cx="243.8" cy="465.2" r="1.55"/><circle cx="245.6" cy="466.0" r="1.55"/><circle cx="247.9" cy="466.0" r="1.55"/><circle cx="230.1" cy="469.5" r="1.55"/><circle cx="232.4" cy="469.9" r="1.55"/><circle cx="234.7" cy="469.3" r="1.55"/><circle cx="236.9" cy="469.3" r="1.55"/><circle cx="238.9" cy="469.2" r="1.55"/><circle cx="241.2" cy="469.8" r="1.55"/><circle cx="243.3" cy="469.7" r="1.55"/><circle cx="245.5" cy="469.3" r="1.55"/><circle cx="248.1" cy="469.6" r="1.55"/><circle cx="249.9" cy="469.0" r="1.55"/><circle cx="233.2" cy="471.6" r="1.55"/><circle cx="235.7" cy="471.1" r="1.55"/><circle cx="238.2" cy="471.5" r="1.55"/><circle cx="237.8" cy="473.6" r="1.55"/><circle cx="239.8" cy="472.8" r="1.55"/><circle cx="241.8" cy="473.0" r="1.55"/><circle cx="243.9" cy="473.2" r="1.55"/><circle cx="246.0" cy="473.2" r="1.55"/><circle cx="248.2" cy="473.3" r="1.55"/><circle cx="240.4" cy="476.0" r="1.55"/><circle cx="243.3" cy="476.3" r="1.55"/><circle cx="246.8" cy="476.0" r="1.55"/><circle cx="250.0" cy="476.3" r="1.55"/><circle cx="228.5" cy="480.6" r="1.55"/><circle cx="230.4" cy="480.6" r="1.55"/><circle cx="235.4" cy="480.7" r="1.55"/><circle cx="237.4" cy="480.7" r="1.55"/><circle cx="239.9" cy="480.7" r="1.55"/><circle cx="244.2" cy="480.4" r="1.55"/><circle cx="218.8" cy="482.8" r="1.55"/><circle cx="221.3" cy="483.4" r="1.55"/><circle cx="223.4" cy="483.3" r="1.55"/><circle cx="225.5" cy="482.9" r="1.55"/><circle cx="229.1" cy="483.4" r="1.55"/><circle cx="231.3" cy="483.5" r="1.55"/><circle cx="234.1" cy="482.7" r="1.55"/><circle cx="236.5" cy="483.3" r="1.55"/><circle cx="239.3" cy="483.4" r="1.55"/><circle cx="241.6" cy="485.2" r="1.55"/><circle cx="243.8" cy="485.3" r="1.55"/><circle cx="246.3" cy="485.1" r="1.55"/><circle cx="239.9" cy="486.4" r="1.55"/><circle cx="249.0" cy="486.1" r="1.55"/><circle cx="228.9" cy="488.2" r="1.55"/><circle cx="231.9" cy="488.7" r="1.55"/><circle cx="234.6" cy="488.7" r="1.55"/><circle cx="237.8" cy="488.1" r="1.55"/><circle cx="241.5" cy="488.5" r="1.55"/><circle cx="224.9" cy="490.0" r="1.55"/><circle cx="227.7" cy="489.5" r="1.55"/><circle cx="229.9" cy="490.1" r="1.55"/><circle cx="234.0" cy="490.5" r="1.55"/><circle cx="218.7" cy="492.1" r="1.55"/><circle cx="220.6" cy="491.8" r="1.55"/><circle cx="222.5" cy="492.3" r="1.55"/><circle cx="224.7" cy="491.9" r="1.55"/><circle cx="226.6" cy="492.7" r="1.55"/><circle cx="231.8" cy="492.6" r="1.55"/><circle cx="235.2" cy="491.9" r="1.55"/><circle cx="210.5" cy="493.8" r="1.55"/><circle cx="213.1" cy="494.1" r="1.55"/><circle cx="216.2" cy="493.6" r="1.55"/><circle cx="219.3" cy="494.1" r="1.55"/><circle cx="221.1" cy="494.0" r="1.55"/><circle cx="223.2" cy="494.1" r="1.55"/><circle cx="225.2" cy="494.3" r="1.55"/><circle cx="216.5" cy="495.9" r="1.55"/><circle cx="223.5" cy="496.0" r="1.55"/><circle cx="228.0" cy="495.8" r="1.55"/><circle cx="230.2" cy="496.4" r="1.55"/><circle cx="233.3" cy="496.2" r="1.55"/><circle cx="236.0" cy="496.1" r="1.55"/><circle cx="239.0" cy="496.1" r="1.55"/><circle cx="241.5" cy="495.8" r="1.55"/><circle cx="244.4" cy="495.7" r="1.55"/><circle cx="247.3" cy="495.8" r="1.55"/><circle cx="250.1" cy="496.2" r="1.55"/><circle cx="205.1" cy="497.8" r="1.55"/><circle cx="208.1" cy="497.2" r="1.55"/><circle cx="211.4" cy="497.4" r="1.55"/><circle cx="213.9" cy="497.2" r="1.55"/><circle cx="217.8" cy="498.0" r="1.55"/><circle cx="219.7" cy="497.4" r="1.55"/><circle cx="221.8" cy="497.8" r="1.55"/><circle cx="223.8" cy="497.8" r="1.55"/><circle cx="252.0" cy="460.5" r="1.55"/><circle cx="254.3" cy="460.5" r="1.55"/><circle cx="256.3" cy="460.8" r="1.55"/><circle cx="258.5" cy="460.9" r="1.55"/><circle cx="260.3" cy="460.3" r="1.55"/><circle cx="264.4" cy="460.8" r="1.55"/><circle cx="268.0" cy="461.0" r="1.55"/><circle cx="252.2" cy="464.0" r="1.55"/><circle cx="254.3" cy="463.3" r="1.55"/><circle cx="258.9" cy="464.0" r="1.55"/><circle cx="262.2" cy="464.0" r="1.55"/><circle cx="265.3" cy="464.0" r="1.55"/><circle cx="250.0" cy="471.8" r="1.55"/><circle cx="253.0" cy="471.5" r="1.55"/><circle cx="256.6" cy="471.9" r="1.55"/><circle cx="259.4" cy="471.9" r="1.55"/><circle cx="252.7" cy="476.0" r="1.55"/><circle cx="253.1" cy="495.8" r="1.55"/><circle cx="255.5" cy="495.8" r="1.55"/></g>
<line class="dl" x1="198.0" y1="513.5" x2="305.0" y2="406.9"/>
<rect class="fr" x="198.0" y="406.9" width="107.0" height="106.6"/>
<path class="tk" d="M209.5 514.5V517.9M197.0 502.3H193.6M224.7 514.5V517.9M197.0 487.1H193.6M239.9 514.5V517.9M197.0 471.9H193.6M255.2 514.5V517.9M197.0 456.6H193.6M270.4 514.5V517.9M197.0 441.4H193.6M285.6 514.5V517.9M197.0 426.2H193.6M300.8 514.5V517.9M197.0 411.0H193.6"/>
<text class="tl" x="209.5" y="527.8" text-anchor="middle">14</text>
<text class="tl" transform="translate(190.0,501.8) rotate(-90) scale(0.9,1)" text-anchor="middle">14</text>
<text class="tl" x="239.9" y="527.8" text-anchor="middle">18</text>
<text class="tl" transform="translate(190.0,471.4) rotate(-90) scale(0.9,1)" text-anchor="middle">18</text>
<text class="tl" x="270.4" y="527.8" text-anchor="middle">22</text>
<text class="tl" transform="translate(190.0,440.9) rotate(-90) scale(0.9,1)" text-anchor="middle">22</text>
<text class="tl" x="300.8" y="527.8" text-anchor="middle">26</text>
<text class="tl" transform="translate(190.0,410.5) rotate(-90) scale(0.9,1)" text-anchor="middle">26</text>
<text class="r2" transform="translate(205.90,421.64) scale(0.95,1.12)">R<tspan dy="-2.8" font-size="4.4px">2</tspan><tspan dy="2.8">=0.77</tspan></text>
<text class="pl" text-anchor="end" transform="translate(299.50,507.90) scale(0.97,1.08)">D2</text>
<text class="ax" x="253.2" y="541.5" text-anchor="middle">Predicted SOC (g kg<tspan dy="-3.2" font-size="5.9px">&#8722;1</tspan><tspan dy="3.2">)</tspan></text>
<path class="bl" d="M399.8 448.8H402.0M398.5 456.2H402.0M392.2 458.8H402.0M421.2 424.4H436.2M412.5 431.2H426.2M408.8 435.6H431.2M410.0 440.6H416.2M407.5 442.5H427.5M402.0 445.0H422.5M402.0 448.1H415.0M402.0 450.0H413.8M402.0 453.1H412.5M402.0 458.5H412.5M391.0 460.6H402.0M396.0 463.1H402.0M389.8 469.4H399.8M387.2 472.5H402.0M374.8 483.1H393.5M382.2 488.5H393.5M371.0 492.2H372.2M376.0 492.2H384.8M374.8 494.4H387.2M371.0 496.0H394.8M399.1 496.0H399.1M402.0 460.6H412.5M402.0 463.8H413.8M402.0 471.9H408.1M402.0 476.0H402.5"/>
<g class="pt"><circle cx="398.8" cy="444.5" r="1.55"/><circle cx="402.1" cy="444.3" r="1.55"/><circle cx="399.7" cy="448.8" r="1.55"/><circle cx="402.0" cy="448.7" r="1.55"/><circle cx="397.1" cy="454.6" r="1.55"/><circle cx="399.8" cy="454.4" r="1.55"/><circle cx="401.7" cy="454.1" r="1.55"/><circle cx="398.4" cy="455.9" r="1.55"/><circle cx="400.1" cy="456.6" r="1.55"/><circle cx="382.2" cy="458.3" r="1.55"/><circle cx="385.1" cy="458.3" r="1.55"/><circle cx="387.4" cy="458.2" r="1.55"/><circle cx="392.2" cy="458.5" r="1.55"/><circle cx="394.3" cy="458.6" r="1.55"/><circle cx="398.1" cy="458.3" r="1.55"/><circle cx="400.0" cy="458.4" r="1.55"/><circle cx="402.2" cy="459.2" r="1.55"/><circle cx="424.1" cy="417.8" r="1.55"/><circle cx="427.5" cy="417.8" r="1.55"/><circle cx="431.2" cy="417.8" r="1.55"/><circle cx="434.9" cy="417.8" r="1.55"/><circle cx="420.9" cy="424.2" r="1.55"/><circle cx="423.6" cy="424.4" r="1.55"/><circle cx="425.5" cy="424.7" r="1.55"/><circle cx="427.5" cy="424.1" r="1.55"/><circle cx="429.7" cy="424.2" r="1.55"/><circle cx="432.3" cy="424.8" r="1.55"/><circle cx="434.1" cy="424.3" r="1.55"/><circle cx="436.0" cy="424.9" r="1.55"/><circle cx="423.6" cy="426.4" r="1.55"/><circle cx="426.9" cy="425.9" r="1.55"/><circle cx="430.0" cy="426.1" r="1.55"/><circle cx="427.5" cy="429.0" r="1.55"/><circle cx="430.9" cy="429.0" r="1.55"/><circle cx="433.9" cy="429.0" r="1.55"/><circle cx="413.9" cy="429.0" r="1.55"/><circle cx="416.8" cy="428.9" r="1.55"/><circle cx="420.0" cy="429.0" r="1.55"/><circle cx="412.7" cy="431.2" r="1.55"/><circle cx="416.3" cy="431.1" r="1.55"/><circle cx="418.2" cy="431.7" r="1.55"/><circle cx="420.6" cy="430.8" r="1.55"/><circle cx="424.4" cy="431.7" r="1.55"/><circle cx="426.2" cy="431.1" r="1.55"/><circle cx="413.8" cy="432.9" r="1.55"/><circle cx="417.0" cy="433.2" r="1.55"/><circle cx="420.5" cy="433.1" r="1.55"/><circle cx="423.4" cy="433.5" r="1.55"/><circle cx="426.4" cy="433.4" r="1.55"/><circle cx="430.1" cy="433.2" r="1.55"/><circle cx="408.6" cy="435.9" r="1.55"/><circle cx="411.1" cy="436.0" r="1.55"/><circle cx="412.9" cy="435.3" r="1.55"/><circle cx="414.8" cy="435.3" r="1.55"/><circle cx="417.0" cy="435.8" r="1.55"/><circle cx="418.8" cy="436.0" r="1.55"/><circle cx="421.0" cy="435.9" r="1.55"/><circle cx="423.1" cy="436.0" r="1.55"/><circle cx="425.4" cy="435.8" r="1.55"/><circle cx="429.5" cy="435.5" r="1.55"/><circle cx="431.4" cy="435.7" r="1.55"/><circle cx="418.6" cy="439.0" r="1.55"/><circle cx="421.6" cy="439.0" r="1.55"/><circle cx="424.7" cy="438.6" r="1.55"/><circle cx="411.5" cy="439.1" r="1.55"/><circle cx="413.6" cy="438.6" r="1.55"/><circle cx="416.2" cy="439.4" r="1.55"/><circle cx="410.2" cy="440.3" r="1.55"/><circle cx="412.1" cy="440.9" r="1.55"/><circle cx="414.3" cy="440.6" r="1.55"/><circle cx="401.8" cy="442.5" r="1.55"/><circle cx="405.1" cy="442.5" r="1.55"/><circle cx="407.5" cy="442.7" r="1.55"/><circle cx="409.7" cy="442.8" r="1.55"/><circle cx="413.8" cy="442.4" r="1.55"/><circle cx="415.8" cy="442.4" r="1.55"/><circle cx="417.6" cy="442.4" r="1.55"/><circle cx="419.6" cy="442.7" r="1.55"/><circle cx="421.6" cy="442.0" r="1.55"/><circle cx="423.5" cy="442.9" r="1.55"/><circle cx="425.5" cy="442.4" r="1.55"/><circle cx="403.8" cy="444.9" r="1.55"/><circle cx="406.1" cy="444.9" r="1.55"/><circle cx="408.1" cy="445.1" r="1.55"/><circle cx="410.2" cy="444.8" r="1.55"/><circle cx="412.2" cy="444.7" r="1.55"/><circle cx="414.4" cy="445.5" r="1.55"/><circle cx="416.5" cy="444.6" r="1.55"/><circle cx="418.7" cy="444.7" r="1.55"/><circle cx="422.7" cy="445.4" r="1.55"/><circle cx="427.2" cy="446.2" r="1.55"/><circle cx="430.1" cy="446.2" r="1.55"/><circle cx="433.9" cy="446.2" r="1.55"/><circle cx="404.1" cy="447.8" r="1.55"/><circle cx="406.2" cy="447.8" r="1.55"/><circle cx="408.4" cy="448.2" r="1.55"/><circle cx="410.4" cy="448.4" r="1.55"/><circle cx="412.9" cy="448.0" r="1.55"/><circle cx="414.9" cy="448.3" r="1.55"/><circle cx="403.9" cy="450.4" r="1.55"/><circle cx="405.6" cy="449.7" r="1.55"/><circle cx="412.0" cy="449.9" r="1.55"/><circle cx="414.8" cy="451.2" r="1.55"/><circle cx="418.4" cy="451.2" r="1.55"/><circle cx="404.4" cy="453.4" r="1.55"/><circle cx="406.2" cy="452.9" r="1.55"/><circle cx="408.0" cy="452.8" r="1.55"/><circle cx="410.6" cy="453.3" r="1.55"/><circle cx="412.5" cy="453.2" r="1.55"/><circle cx="401.8" cy="456.5" r="1.55"/><circle cx="404.9" cy="456.5" r="1.55"/><circle cx="407.3" cy="456.1" r="1.55"/><circle cx="409.7" cy="456.3" r="1.55"/><circle cx="412.4" cy="456.3" r="1.55"/><circle cx="430.6" cy="456.2" r="1.55"/><circle cx="404.1" cy="458.6" r="1.55"/><circle cx="406.5" cy="458.8" r="1.55"/><circle cx="408.3" cy="458.0" r="1.55"/><circle cx="410.4" cy="458.2" r="1.55"/><circle cx="412.2" cy="458.4" r="1.55"/><circle cx="391.1" cy="461.1" r="1.55"/><circle cx="393.2" cy="460.7" r="1.55"/><circle cx="395.6" cy="460.6" r="1.55"/><circle cx="397.7" cy="460.3" r="1.55"/><circle cx="400.0" cy="460.8" r="1.55"/><circle cx="396.3" cy="462.6" r="1.55"/><circle cx="398.2" cy="463.3" r="1.55"/><circle cx="402.0" cy="462.9" r="1.55"/><circle cx="387.3" cy="465.8" r="1.55"/><circle cx="390.2" cy="465.6" r="1.55"/><circle cx="393.1" cy="465.5" r="1.55"/><circle cx="395.8" cy="465.3" r="1.55"/><circle cx="398.9" cy="465.8" r="1.55"/><circle cx="402.0" cy="465.6" r="1.55"/><circle cx="389.4" cy="469.8" r="1.55"/><circle cx="391.5" cy="469.2" r="1.55"/><circle cx="394.0" cy="469.2" r="1.55"/><circle cx="396.1" cy="469.6" r="1.55"/><circle cx="399.5" cy="469.8" r="1.55"/><circle cx="387.3" cy="472.7" r="1.55"/><circle cx="389.6" cy="472.4" r="1.55"/><circle cx="393.5" cy="472.4" r="1.55"/><circle cx="395.9" cy="472.2" r="1.55"/><circle cx="400.0" cy="472.5" r="1.55"/><circle cx="392.5" cy="475.8" r="1.55"/><circle cx="395.3" cy="475.8" r="1.55"/><circle cx="398.8" cy="476.0" r="1.55"/><circle cx="401.9" cy="475.7" r="1.55"/><circle cx="379.8" cy="480.9" r="1.55"/><circle cx="382.7" cy="480.4" r="1.55"/><circle cx="385.5" cy="480.7" r="1.55"/><circle cx="388.3" cy="480.4" r="1.55"/><circle cx="391.7" cy="480.9" r="1.55"/><circle cx="394.1" cy="480.5" r="1.55"/><circle cx="397.0" cy="481.0" r="1.55"/><circle cx="374.6" cy="482.7" r="1.55"/><circle cx="377.1" cy="483.3" r="1.55"/><circle cx="380.8" cy="483.2" r="1.55"/><circle cx="383.2" cy="483.2" r="1.55"/><circle cx="387.0" cy="483.2" r="1.55"/><circle cx="389.5" cy="483.3" r="1.55"/><circle cx="391.5" cy="482.8" r="1.55"/><circle cx="393.6" cy="482.8" r="1.55"/><circle cx="392.6" cy="485.6" r="1.55"/><circle cx="395.4" cy="485.6" r="1.55"/><circle cx="397.8" cy="485.6" r="1.55"/><circle cx="401.1" cy="485.6" r="1.55"/><circle cx="382.5" cy="488.3" r="1.55"/><circle cx="386.9" cy="488.9" r="1.55"/><circle cx="388.9" cy="488.5" r="1.55"/><circle cx="391.2" cy="488.3" r="1.55"/><circle cx="393.2" cy="488.9" r="1.55"/><circle cx="381.1" cy="489.7" r="1.55"/><circle cx="384.7" cy="489.9" r="1.55"/><circle cx="370.7" cy="491.9" r="1.55"/><circle cx="372.6" cy="492.6" r="1.55"/><circle cx="376.2" cy="492.5" r="1.55"/><circle cx="378.0" cy="492.1" r="1.55"/><circle cx="380.5" cy="492.4" r="1.55"/><circle cx="382.8" cy="492.5" r="1.55"/><circle cx="384.8" cy="492.4" r="1.55"/><circle cx="375.0" cy="494.3" r="1.55"/><circle cx="379.2" cy="494.5" r="1.55"/><circle cx="383.3" cy="494.5" r="1.55"/><circle cx="387.4" cy="494.8" r="1.55"/><circle cx="371.3" cy="496.2" r="1.55"/><circle cx="375.0" cy="496.5" r="1.55"/><circle cx="377.2" cy="495.9" r="1.55"/><circle cx="381.6" cy="495.7" r="1.55"/><circle cx="384.2" cy="496.1" r="1.55"/><circle cx="390.7" cy="496.2" r="1.55"/><circle cx="392.6" cy="496.1" r="1.55"/><circle cx="394.8" cy="495.7" r="1.55"/><circle cx="399.1" cy="496.5" r="1.55"/><circle cx="363.3" cy="497.4" r="1.55"/><circle cx="366.5" cy="497.5" r="1.55"/><circle cx="370.0" cy="497.8" r="1.55"/><circle cx="372.8" cy="497.6" r="1.55"/><circle cx="405.9" cy="460.8" r="1.55"/><circle cx="408.2" cy="460.7" r="1.55"/><circle cx="410.1" cy="460.3" r="1.55"/><circle cx="412.3" cy="461.0" r="1.55"/><circle cx="403.8" cy="463.3" r="1.55"/><circle cx="406.0" cy="463.4" r="1.55"/><circle cx="407.8" cy="463.8" r="1.55"/><circle cx="410.1" cy="463.3" r="1.55"/><circle cx="413.5" cy="464.0" r="1.55"/><circle cx="416.2" cy="463.8" r="1.55"/><circle cx="401.9" cy="472.3" r="1.55"/><circle cx="404.2" cy="472.1" r="1.55"/><circle cx="406.3" cy="471.7" r="1.55"/><circle cx="404.8" cy="486.2" r="1.55"/><circle cx="402.3" cy="496.0" r="1.55"/><circle cx="406.6" cy="496.0" r="1.55"/></g>
<line class="dl" x1="351.0" y1="513.5" x2="458.0" y2="406.9"/>
<rect class="fr" x="351.0" y="406.9" width="107.0" height="106.6"/>
<path class="tk" d="M362.3 514.5V517.9M350.0 502.3H346.6M377.6 514.5V517.9M350.0 487.1H346.6M392.8 514.5V517.9M350.0 471.9H346.6M408.1 514.5V517.9M350.0 456.6H346.6M423.4 514.5V517.9M350.0 441.4H346.6M438.6 514.5V517.9M350.0 426.2H346.6M453.9 514.5V517.9M350.0 411.0H346.6"/>
<text class="tl" x="362.3" y="527.8" text-anchor="middle">14</text>
<text class="tl" transform="translate(343.0,501.8) rotate(-90) scale(0.9,1)" text-anchor="middle">14</text>
<text class="tl" x="392.8" y="527.8" text-anchor="middle">18</text>
<text class="tl" transform="translate(343.0,471.4) rotate(-90) scale(0.9,1)" text-anchor="middle">18</text>
<text class="tl" x="423.4" y="527.8" text-anchor="middle">22</text>
<text class="tl" transform="translate(343.0,440.9) rotate(-90) scale(0.9,1)" text-anchor="middle">22</text>
<text class="tl" x="453.9" y="527.8" text-anchor="middle">26</text>
<text class="tl" transform="translate(343.0,410.5) rotate(-90) scale(0.9,1)" text-anchor="middle">26</text>
<text class="r2" transform="translate(358.90,421.64) scale(0.95,1.12)">R<tspan dy="-2.8" font-size="4.4px">2</tspan><tspan dy="2.8">=0.81</tspan></text>
<text class="pl" text-anchor="end" transform="translate(454.50,507.90) scale(0.97,1.08)">D3</text>
<text class="ax" x="407.1" y="541.5" text-anchor="middle">Predicted SOC (g kg<tspan dy="-3.2" font-size="5.9px">&#8722;1</tspan><tspan dy="3.2">)</tspan></text>
</svg></body></html>
